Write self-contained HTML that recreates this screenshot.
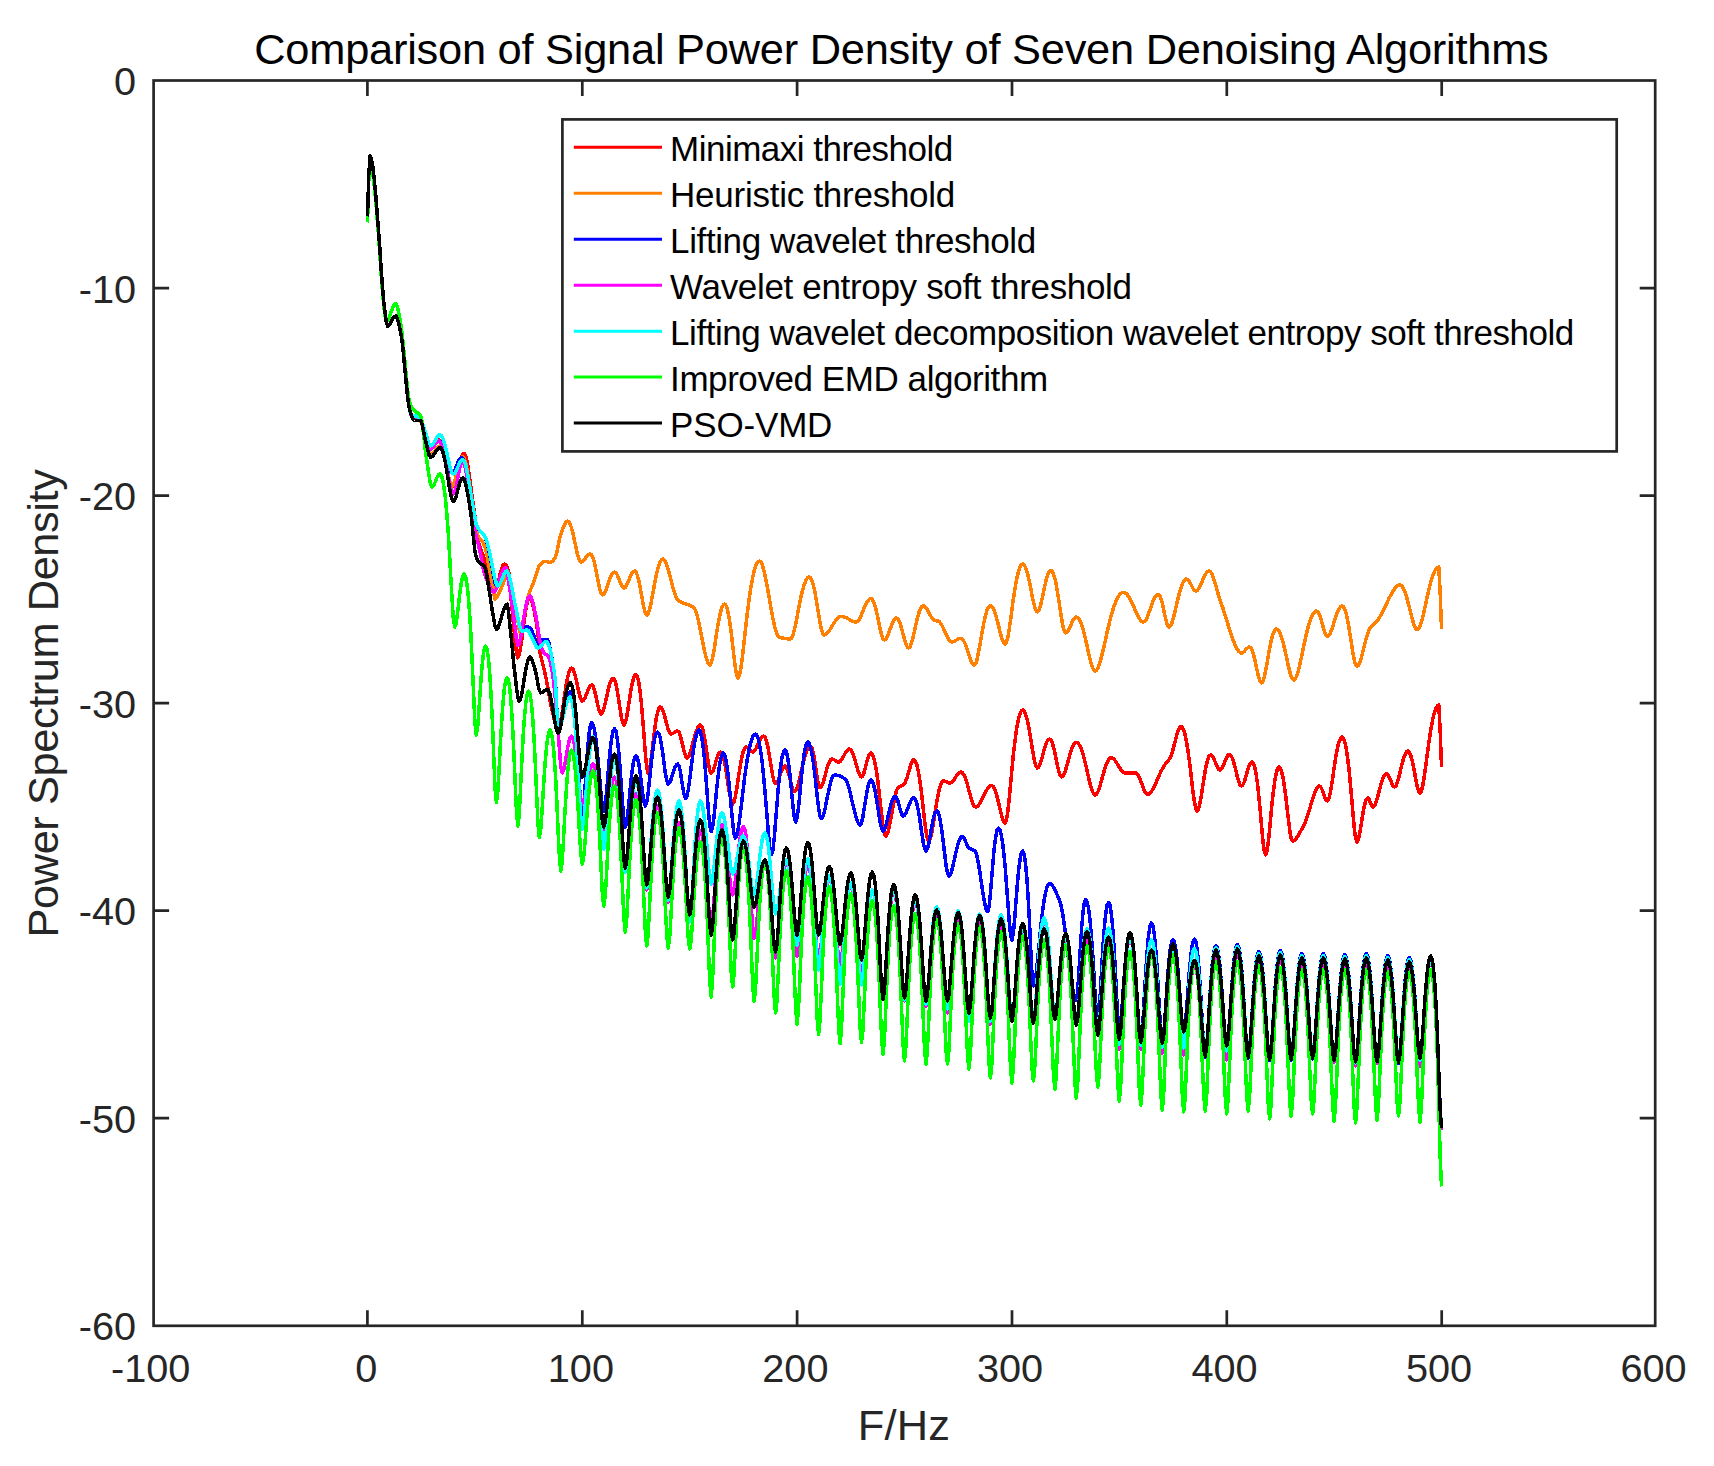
<!DOCTYPE html>
<html lang="en"><head><meta charset="utf-8"><title>Comparison of Signal Power Density of Seven Denoising Algorithms</title>
<style>html,body{margin:0;padding:0;background:#fff}body{width:1714px;height:1466px;overflow:hidden}</style></head>
<body>
<svg width="1714" height="1466" viewBox="0 0 1714 1466" style="display:block">
<rect x="0" y="0" width="1714" height="1466" fill="#fff"/>
<g fill="none" stroke-width="3.5" stroke-linejoin="round" stroke-linecap="butt" shape-rendering="crispEdges">
<path d="M367.5 216.5 L368.8 173.7 L370.2 155.7 L371.5 159.7 L372.9 167.3 L374.2 178.6 L375.6 193.4 L376.9 209.8 L378.2 226.2 L379.6 244.9 L380.9 265.4 L382.3 284.8 L383.6 300.5 L385.0 312.0 L386.3 321.9 L387.6 326.2 L389.0 325.5 L390.3 323.5 L391.7 321.0 L393.0 318.4 L394.4 316.6 L395.7 316.0 L397.0 317.6 L398.4 321.7 L399.7 327.7 L401.1 334.6 L402.4 343.5 L403.7 356.9 L405.1 371.2 L406.4 385.0 L407.8 398.8 L409.1 407.3 L410.5 413.5 L411.8 416.2 L413.1 416.1 L414.5 416.1 L415.8 416.0 L417.2 416.4 L418.5 417.4 L419.9 418.7 L421.2 420.7 L422.5 424.5 L423.9 429.3 L425.2 433.9 L426.6 438.0 L427.9 442.6 L429.3 446.4 L430.6 448.0 L431.9 447.4 L433.3 445.8 L434.6 443.6 L436.0 441.6 L437.3 440.0 L438.7 439.5 L440.0 440.4 L441.3 443.1 L442.7 447.4 L444.0 453.3 L445.4 460.2 L446.7 467.6 L448.1 475.0 L449.4 481.2 L450.7 485.5 L452.1 487.0 L453.4 485.8 L454.8 482.4 L456.1 477.4 L457.4 471.6 L458.8 465.8 L460.1 460.7 L461.5 456.7 L462.8 454.2 L464.2 453.4 L465.5 455.2 L466.8 460.2 L468.2 467.7 L469.5 476.9 L470.9 487.0 L472.2 497.5 L473.6 507.4 L474.9 516.2 L476.2 524.6 L477.6 535.1 L478.9 543.7 L480.3 548.0 L481.6 551.4 L483.0 555.3 L484.3 559.1 L485.6 563.1 L487.0 567.5 L488.3 572.0 L489.7 576.5 L491.0 580.5 L492.4 584.3 L493.7 587.6 L495.0 589.0 L496.4 587.6 L497.7 583.8 L499.1 578.5 L500.4 573.0 L501.8 568.3 L503.1 565.2 L504.4 564.1 L505.8 564.8 L507.1 567.0 L508.5 570.9 L509.8 578.1 L511.1 598.8 L512.5 612.9 L513.8 627.4 L515.2 642.0 L516.5 653.3 L517.9 657.8 L519.2 655.2 L520.5 648.3 L521.9 638.5 L523.2 627.8 L524.6 617.6 L525.9 609.1 L527.3 602.6 L528.6 598.6 L529.9 597.3 L531.3 599.1 L532.6 603.7 L534.0 609.9 L535.3 616.6 L536.7 624.4 L538.0 634.4 L539.3 648.8 L540.7 656.1 L542.0 660.8 L543.4 666.4 L544.7 672.2 L546.1 678.3 L547.4 685.2 L548.7 692.9 L550.1 700.6 L551.4 707.5 L552.8 713.2 L554.1 719.0 L555.5 724.2 L556.8 728.0 L558.1 729.5 L559.5 727.4 L560.8 721.4 L562.2 712.9 L563.5 703.3 L564.8 693.6 L566.2 684.9 L567.5 677.7 L568.9 672.4 L570.2 669.1 L571.6 668.0 L572.9 669.1 L574.2 672.1 L575.6 677.0 L576.9 683.0 L578.3 689.5 L579.6 695.3 L581.0 699.5 L582.3 701.0 L583.6 700.1 L585.0 697.8 L586.3 694.4 L587.7 690.9 L589.0 687.8 L590.4 685.7 L591.7 685.0 L593.0 686.2 L594.4 689.8 L595.7 695.2 L597.1 701.6 L598.4 707.8 L599.8 712.3 L601.1 714.0 L602.4 712.7 L603.8 709.1 L605.1 703.7 L606.5 697.6 L607.8 691.5 L609.1 686.2 L610.5 682.0 L611.8 679.4 L613.2 678.5 L614.5 679.9 L615.9 684.0 L617.2 690.5 L618.5 698.8 L619.9 707.9 L621.2 716.5 L622.6 722.7 L623.9 725.0 L625.3 723.0 L626.6 717.4 L627.9 709.5 L629.3 700.6 L630.6 692.1 L632.0 684.7 L633.3 679.1 L634.7 675.7 L636.0 674.5 L637.3 676.3 L638.7 681.8 L640.0 690.9 L641.4 703.4 L642.7 719.1 L644.1 736.7 L645.4 754.2 L646.7 767.8 L648.1 773.0 L649.4 770.1 L650.8 762.3 L652.1 751.5 L653.5 739.7 L654.8 728.8 L656.1 719.5 L657.5 712.6 L658.8 708.4 L660.2 707.0 L661.5 707.9 L662.9 710.5 L664.2 714.5 L665.5 719.5 L666.9 724.8 L668.2 729.5 L669.6 732.8 L670.9 734.0 L672.2 733.7 L673.6 732.9 L674.9 732.1 L676.3 731.3 L677.6 731.0 L679.0 732.2 L680.3 735.5 L681.6 740.6 L683.0 746.5 L684.3 752.3 L685.7 756.5 L687.0 758.0 L688.4 757.0 L689.7 754.3 L691.0 750.1 L692.4 745.2 L693.7 740.0 L695.1 735.1 L696.4 730.9 L697.8 727.7 L699.1 725.7 L700.4 725.0 L701.8 726.4 L703.1 730.6 L704.5 737.3 L705.8 745.8 L707.2 755.3 L708.5 764.2 L709.8 770.6 L711.2 773.0 L712.5 771.8 L713.9 768.7 L715.2 764.2 L716.5 759.6 L717.9 755.6 L719.2 752.9 L720.6 752.0 L721.9 753.2 L723.3 756.7 L724.6 762.5 L725.9 770.0 L727.3 778.8 L728.6 787.9 L730.0 796.1 L731.3 801.9 L732.7 804.0 L734.0 802.1 L735.3 796.7 L736.7 788.9 L738.0 780.0 L739.4 771.1 L740.7 762.9 L742.1 756.2 L743.4 751.1 L744.7 748.0 L746.1 747.0 L747.4 747.5 L748.8 748.8 L750.1 750.2 L751.5 751.5 L752.8 752.0 L754.1 751.3 L755.5 749.5 L756.8 746.8 L758.2 743.6 L759.5 740.6 L760.9 738.2 L762.2 736.6 L763.5 736.0 L764.9 737.1 L766.2 740.4 L767.6 745.8 L768.9 752.7 L770.2 760.8 L771.6 769.1 L772.9 776.6 L774.3 781.7 L775.6 783.6 L777.0 782.6 L778.3 780.0 L779.6 776.3 L781.0 772.4 L782.3 769.1 L783.7 766.8 L785.0 766.0 L786.4 767.1 L787.7 770.3 L789.0 775.1 L790.4 780.8 L791.7 786.2 L793.1 790.2 L794.4 791.6 L795.8 790.6 L797.1 787.7 L798.4 783.3 L799.8 777.9 L801.1 771.9 L802.5 765.9 L803.8 760.3 L805.2 755.4 L806.5 751.4 L807.8 748.4 L809.2 746.6 L810.5 746.0 L811.9 747.7 L813.2 752.5 L814.6 760.0 L815.9 769.1 L817.2 778.2 L818.6 785.0 L819.9 787.6 L821.3 786.6 L822.6 783.8 L824.0 779.6 L825.3 774.7 L826.6 769.7 L828.0 765.3 L829.3 761.9 L830.7 759.7 L832.0 759.0 L833.3 759.3 L834.7 760.1 L836.0 760.9 L837.4 761.7 L838.7 762.0 L840.1 761.5 L841.4 760.0 L842.7 757.8 L844.1 755.3 L845.4 752.8 L846.8 750.8 L848.1 749.5 L849.5 749.0 L850.8 749.7 L852.1 751.9 L853.5 755.2 L854.8 759.5 L856.2 764.4 L857.5 769.1 L858.9 773.2 L860.2 776.0 L861.5 777.0 L862.9 775.7 L864.2 772.0 L865.6 766.9 L866.9 761.6 L868.3 757.1 L869.6 754.0 L870.9 753.0 L872.3 754.1 L873.6 757.4 L875.0 762.9 L876.3 770.4 L877.7 779.9 L879.0 791.0 L880.3 803.0 L881.7 815.1 L883.0 825.8 L884.4 833.4 L885.7 836.0 L887.0 834.5 L888.4 830.5 L889.7 824.6 L891.1 817.5 L892.4 809.9 L893.8 802.5 L895.1 795.9 L896.4 790.8 L897.8 787.8 L899.1 786.8 L900.5 786.2 L901.8 785.7 L903.2 785.0 L904.5 783.8 L905.8 781.1 L907.2 777.1 L908.5 772.5 L909.9 767.8 L911.2 763.6 L912.6 760.7 L913.9 759.6 L915.2 760.7 L916.6 764.0 L917.9 769.4 L919.3 776.8 L920.6 786.1 L922.0 797.0 L923.3 808.8 L924.6 820.7 L926.0 831.1 L927.3 838.4 L928.7 841.0 L930.0 839.3 L931.4 834.5 L932.7 827.4 L934.0 819.0 L935.4 810.3 L936.7 802.1 L938.1 794.8 L939.4 788.9 L940.7 784.6 L942.1 781.9 L943.4 781.0 L944.8 781.2 L946.1 781.7 L947.5 782.3 L948.8 782.8 L950.1 783.0 L951.5 782.6 L952.8 781.3 L954.2 779.5 L955.5 777.3 L956.9 775.3 L958.2 773.5 L959.5 772.4 L960.9 772.0 L962.2 772.6 L963.6 774.3 L964.9 777.1 L966.3 780.9 L967.6 785.4 L968.9 790.3 L970.3 795.3 L971.6 799.9 L973.0 803.7 L974.3 806.2 L975.7 807.0 L977.0 806.6 L978.3 805.4 L979.7 803.5 L981.0 801.2 L982.4 798.5 L983.7 795.7 L985.1 792.9 L986.4 790.5 L987.7 788.4 L989.1 786.9 L990.4 785.9 L991.8 785.6 L993.1 786.3 L994.4 788.6 L995.8 792.1 L997.1 796.8 L998.5 802.4 L999.8 808.3 L1001.2 813.9 L1002.5 818.7 L1003.8 821.9 L1005.2 823.0 L1006.5 819.9 L1007.9 811.0 L1009.2 798.4 L1010.6 784.0 L1011.9 769.6 L1013.2 756.1 L1014.6 744.0 L1015.9 733.6 L1017.3 725.1 L1018.6 718.5 L1020.0 713.7 L1021.3 710.9 L1022.6 710.0 L1024.0 710.8 L1025.3 713.5 L1026.7 717.7 L1028.0 723.5 L1029.4 730.5 L1030.7 738.5 L1032.0 746.9 L1033.4 755.0 L1034.7 761.8 L1036.1 766.4 L1037.4 768.0 L1038.8 767.0 L1040.1 764.1 L1041.4 759.8 L1042.8 754.9 L1044.1 749.9 L1045.5 745.4 L1046.8 741.9 L1048.1 739.8 L1049.5 739.0 L1050.8 739.9 L1052.2 742.7 L1053.5 747.1 L1054.9 752.8 L1056.2 759.3 L1057.5 765.9 L1058.9 771.6 L1060.2 775.6 L1061.6 777.0 L1062.9 776.2 L1064.3 773.7 L1065.6 770.0 L1066.9 765.4 L1068.3 760.5 L1069.6 755.7 L1071.0 751.2 L1072.3 747.5 L1073.7 744.7 L1075.0 743.0 L1076.3 742.4 L1077.7 742.9 L1079.0 744.4 L1080.4 746.8 L1081.7 750.2 L1083.1 754.4 L1084.4 759.4 L1085.7 764.9 L1087.1 770.8 L1088.4 776.8 L1089.8 782.5 L1091.1 787.5 L1092.5 791.5 L1093.8 794.1 L1095.1 795.0 L1096.5 794.2 L1097.8 792.0 L1099.2 788.5 L1100.5 784.1 L1101.8 779.3 L1103.2 774.4 L1104.5 769.7 L1105.9 765.6 L1107.2 762.2 L1108.6 759.7 L1109.9 758.1 L1111.2 757.6 L1112.6 758.0 L1113.9 759.1 L1115.3 760.8 L1116.6 762.8 L1118.0 765.0 L1119.3 767.3 L1120.6 769.3 L1122.0 771.1 L1123.3 772.4 L1124.7 773.0 L1126.0 773.0 L1127.4 773.0 L1128.7 773.0 L1130.0 773.0 L1131.4 773.0 L1132.7 773.0 L1134.1 773.0 L1135.4 773.0 L1136.8 773.3 L1138.1 774.9 L1139.4 777.6 L1140.8 781.0 L1142.1 784.7 L1143.5 788.4 L1144.8 791.4 L1146.2 793.6 L1147.5 794.4 L1148.8 794.0 L1150.2 792.9 L1151.5 791.2 L1152.9 789.1 L1154.2 786.5 L1155.5 783.7 L1156.9 780.7 L1158.2 777.6 L1159.6 774.5 L1160.9 771.6 L1162.3 768.9 L1163.6 766.6 L1164.9 764.7 L1166.3 763.1 L1167.6 761.4 L1169.0 759.6 L1170.3 757.4 L1171.7 754.0 L1173.0 749.5 L1174.3 744.4 L1175.7 739.2 L1177.0 734.3 L1178.4 730.2 L1179.7 727.4 L1181.1 726.4 L1182.4 727.3 L1183.7 730.1 L1185.1 734.8 L1186.4 741.3 L1187.8 749.4 L1189.1 759.1 L1190.5 770.0 L1191.8 781.4 L1193.1 792.5 L1194.5 802.1 L1195.8 808.7 L1197.2 811.0 L1198.5 809.1 L1199.8 803.9 L1201.2 796.3 L1202.5 787.5 L1203.9 778.7 L1205.2 770.7 L1206.6 764.0 L1207.9 759.1 L1209.2 756.0 L1210.6 755.0 L1211.9 755.7 L1213.3 757.6 L1214.6 760.5 L1216.0 763.9 L1217.3 767.0 L1218.6 769.2 L1220.0 770.0 L1221.3 769.2 L1222.7 766.9 L1224.0 763.6 L1225.4 760.1 L1226.7 757.1 L1228.0 755.1 L1229.4 754.4 L1230.7 755.2 L1232.1 757.6 L1233.4 761.3 L1234.8 766.1 L1236.1 771.6 L1237.4 777.0 L1238.8 781.7 L1240.1 784.9 L1241.5 786.0 L1242.8 785.0 L1244.2 782.1 L1245.5 777.9 L1246.8 773.2 L1248.2 768.8 L1249.5 765.1 L1250.9 762.8 L1252.2 762.0 L1253.6 763.4 L1254.9 767.7 L1256.2 774.8 L1257.6 784.7 L1258.9 797.0 L1260.3 811.3 L1261.6 826.5 L1262.9 840.7 L1264.3 851.2 L1265.6 855.0 L1267.0 851.5 L1268.3 841.8 L1269.7 828.6 L1271.0 814.2 L1272.3 800.7 L1273.7 788.9 L1275.0 779.4 L1276.4 772.5 L1277.7 768.4 L1279.1 767.0 L1280.4 768.2 L1281.7 772.0 L1283.1 778.1 L1284.4 786.4 L1285.8 796.6 L1287.1 808.2 L1288.5 820.0 L1289.8 830.7 L1291.1 838.3 L1292.5 841.0 L1293.8 840.6 L1295.2 839.6 L1296.5 838.1 L1297.9 836.2 L1299.2 833.9 L1300.5 831.5 L1301.9 828.9 L1303.2 826.4 L1304.6 823.9 L1305.9 820.7 L1307.2 816.9 L1308.6 812.6 L1309.9 808.0 L1311.3 803.4 L1312.6 799.0 L1314.0 794.8 L1315.3 791.3 L1316.6 788.5 L1318.0 786.7 L1319.3 786.0 L1320.7 786.9 L1322.0 789.5 L1323.4 793.2 L1324.7 797.0 L1326.0 799.9 L1327.4 801.0 L1328.7 799.2 L1330.1 793.9 L1331.4 786.2 L1332.8 777.2 L1334.1 767.9 L1335.4 759.2 L1336.8 751.5 L1338.1 745.3 L1339.5 740.7 L1340.8 737.9 L1342.2 737.0 L1343.5 738.2 L1344.8 742.1 L1346.2 748.4 L1347.5 757.2 L1348.9 768.5 L1350.2 782.0 L1351.6 797.2 L1352.9 812.9 L1354.2 827.4 L1355.6 838.2 L1356.9 842.0 L1358.3 839.9 L1359.6 834.0 L1361.0 826.0 L1362.3 817.3 L1363.6 809.4 L1365.0 803.3 L1366.3 799.3 L1367.7 798.0 L1369.0 799.3 L1370.3 802.4 L1371.7 805.6 L1373.0 807.0 L1374.4 806.0 L1375.7 803.2 L1377.1 799.0 L1378.4 794.0 L1379.7 788.8 L1381.1 783.8 L1382.4 779.5 L1383.8 776.3 L1385.1 774.3 L1386.5 773.6 L1387.8 774.4 L1389.1 776.8 L1390.5 780.1 L1391.8 783.5 L1393.2 786.0 L1394.5 787.0 L1395.9 785.9 L1397.2 782.9 L1398.5 778.3 L1399.9 772.9 L1401.2 767.2 L1402.6 761.9 L1403.9 757.3 L1405.3 753.9 L1406.6 751.7 L1407.9 751.0 L1409.3 752.0 L1410.6 755.0 L1412.0 759.8 L1413.3 766.1 L1414.7 773.2 L1416.0 780.5 L1417.3 787.0 L1418.7 791.4 L1420.0 793.0 L1421.4 791.2 L1422.7 785.9 L1424.0 778.1 L1425.4 768.6 L1426.7 758.4 L1428.1 748.2 L1429.4 738.7 L1430.8 730.0 L1432.1 722.5 L1433.4 716.2 L1434.8 711.3 L1436.1 707.8 L1437.5 705.7 L1438.8 705.0 L1440.2 730.8 L1441.5 767.0" stroke="#ff0000"/>
<path d="M367.5 216.5 L368.8 173.7 L370.2 155.7 L371.5 159.7 L372.9 167.3 L374.2 178.6 L375.6 193.4 L376.9 209.8 L378.2 226.2 L379.6 244.9 L380.9 265.4 L382.3 284.8 L383.6 300.5 L385.0 312.0 L386.3 321.9 L387.6 326.2 L389.0 325.5 L390.3 323.5 L391.7 321.0 L393.0 318.4 L394.4 316.6 L395.7 316.0 L397.0 317.6 L398.4 321.7 L399.7 327.7 L401.1 334.6 L402.4 343.5 L403.7 356.9 L405.1 371.2 L406.4 385.0 L407.8 398.7 L409.1 407.4 L410.5 413.8 L411.8 416.3 L413.1 416.6 L414.5 416.7 L415.8 417.0 L417.2 417.6 L418.5 418.5 L419.9 419.8 L421.2 421.9 L422.5 426.6 L423.9 432.8 L425.2 438.7 L426.6 443.6 L427.9 448.9 L429.3 453.2 L430.6 455.0 L431.9 454.5 L433.3 453.2 L434.6 451.4 L436.0 449.4 L437.3 447.6 L438.7 446.4 L440.0 446.0 L441.3 447.0 L442.7 449.9 L444.0 454.5 L445.4 460.4 L446.7 467.3 L448.1 474.2 L449.4 480.3 L450.7 484.5 L452.1 486.0 L453.4 484.7 L454.8 481.0 L456.1 475.8 L457.4 470.0 L458.8 464.6 L460.1 460.3 L461.5 457.5 L462.8 456.5 L464.2 458.0 L465.5 462.1 L466.8 468.3 L468.2 476.0 L469.5 484.7 L470.9 493.7 L472.2 502.7 L473.6 510.9 L474.9 518.0 L476.2 525.1 L477.6 535.0 L478.9 538.2 L480.3 539.4 L481.6 540.5 L483.0 542.5 L484.3 545.3 L485.6 549.0 L487.0 554.6 L488.3 562.9 L489.7 570.1 L491.0 576.7 L492.4 583.5 L493.7 593.1 L495.0 598.9 L496.4 598.0 L497.7 595.9 L499.1 593.1 L500.4 590.2 L501.8 587.1 L503.1 583.4 L504.4 579.7 L505.8 576.6 L507.1 574.5 L508.5 576.8 L509.8 581.3 L511.1 586.7 L512.5 593.4 L513.8 600.1 L515.2 606.5 L516.5 613.1 L517.9 620.9 L519.2 629.7 L520.5 633.9 L521.9 628.5 L523.2 620.3 L524.6 613.5 L525.9 606.7 L527.3 600.4 L528.6 595.1 L529.9 591.1 L531.3 587.8 L532.6 584.6 L534.0 581.0 L535.3 576.9 L536.7 572.5 L538.0 568.7 L539.3 565.7 L540.7 564.1 L542.0 562.7 L543.4 561.8 L544.7 561.4 L546.1 561.6 L547.4 561.9 L548.7 562.2 L550.1 562.4 L551.4 562.0 L552.8 560.9 L554.1 559.2 L555.5 557.1 L556.8 552.3 L558.1 545.7 L559.5 539.2 L560.8 534.6 L562.2 530.8 L563.5 527.1 L564.8 524.0 L566.2 521.9 L567.5 521.1 L568.9 521.9 L570.2 524.3 L571.6 528.1 L572.9 533.2 L574.2 539.3 L575.6 545.7 L576.9 551.9 L578.3 557.2 L579.6 560.8 L581.0 562.0 L582.3 561.6 L583.6 560.4 L585.0 558.8 L586.3 557.0 L587.7 555.5 L589.0 554.4 L590.4 554.0 L591.7 555.0 L593.0 557.9 L594.4 562.6 L595.7 568.8 L597.1 575.8 L598.4 582.9 L599.8 589.1 L601.1 593.4 L602.4 595.0 L603.8 594.2 L605.1 592.0 L606.5 588.7 L607.8 584.8 L609.1 580.8 L610.5 577.2 L611.8 574.4 L613.2 572.6 L614.5 572.0 L615.9 572.7 L617.2 574.8 L618.5 577.9 L619.9 581.4 L621.2 584.8 L622.6 587.1 L623.9 588.0 L625.3 587.3 L626.6 585.3 L627.9 582.4 L629.3 579.1 L630.6 575.9 L632.0 573.3 L633.3 571.6 L634.7 571.0 L636.0 572.1 L637.3 575.2 L638.7 580.2 L640.0 586.7 L641.4 594.2 L642.7 601.8 L644.1 608.6 L645.4 613.3 L646.7 615.0 L648.1 613.7 L649.4 610.0 L650.8 604.3 L652.1 597.4 L653.5 590.0 L654.8 582.7 L656.1 576.0 L657.5 570.1 L658.8 565.3 L660.2 561.8 L661.5 559.7 L662.9 559.0 L664.2 559.8 L665.5 562.1 L666.9 565.5 L668.2 569.8 L669.6 574.6 L670.9 579.7 L672.2 584.9 L673.6 589.7 L674.9 594.0 L676.3 597.4 L677.6 599.6 L679.0 600.8 L680.3 601.6 L681.6 602.3 L683.0 602.9 L684.3 603.4 L685.7 603.8 L687.0 604.3 L688.4 604.7 L689.7 605.3 L691.0 605.9 L692.4 606.7 L693.7 607.8 L695.1 609.6 L696.4 613.1 L697.8 618.0 L699.1 624.0 L700.4 630.6 L701.8 637.5 L703.1 644.4 L704.5 650.8 L705.8 656.5 L707.2 661.0 L708.5 663.9 L709.8 665.0 L711.2 663.3 L712.5 658.3 L713.9 651.1 L715.2 642.6 L716.5 633.7 L717.9 625.4 L719.2 618.0 L720.6 612.0 L721.9 607.6 L723.3 604.9 L724.6 604.0 L725.9 605.2 L727.3 609.0 L728.6 615.1 L730.0 623.4 L731.3 633.6 L732.7 645.2 L734.0 657.0 L735.3 667.7 L736.7 675.3 L738.0 678.0 L739.4 675.7 L740.7 669.3 L742.1 659.7 L743.4 648.3 L744.7 636.1 L746.1 623.9 L747.4 612.4 L748.8 601.7 L750.1 592.2 L751.5 583.9 L752.8 576.9 L754.1 571.2 L755.5 566.7 L756.8 563.5 L758.2 561.7 L759.5 561.0 L760.9 562.0 L762.2 564.8 L763.5 569.2 L764.9 574.8 L766.2 581.4 L767.6 588.6 L768.9 596.2 L770.2 604.0 L771.6 611.5 L772.9 618.6 L774.3 624.9 L775.6 630.2 L777.0 634.2 L778.3 636.5 L779.6 637.2 L781.0 637.6 L782.3 637.9 L783.7 638.2 L785.0 638.5 L786.4 638.7 L787.7 638.9 L789.0 639.0 L790.4 639.0 L791.7 637.9 L793.1 634.7 L794.4 629.8 L795.8 623.6 L797.1 616.8 L798.4 609.7 L799.8 602.8 L801.1 596.4 L802.5 590.7 L803.8 585.9 L805.2 582.0 L806.5 579.2 L807.8 577.5 L809.2 577.0 L810.5 577.8 L811.9 580.5 L813.2 584.7 L814.6 590.5 L815.9 597.5 L817.2 605.5 L818.6 613.9 L819.9 622.0 L821.3 628.8 L822.6 633.4 L824.0 635.0 L825.3 634.7 L826.6 633.8 L828.0 632.4 L829.3 630.6 L830.7 628.6 L832.0 626.3 L833.3 624.1 L834.7 622.0 L836.0 620.1 L837.4 618.5 L838.7 617.4 L840.1 616.6 L841.4 616.4 L842.7 616.5 L844.1 616.9 L845.4 617.4 L846.8 618.1 L848.1 618.8 L849.5 619.6 L850.8 620.3 L852.1 621.0 L853.5 621.5 L854.8 621.9 L856.2 622.0 L857.5 621.5 L858.9 619.9 L860.2 617.5 L861.5 614.5 L862.9 611.2 L864.2 607.8 L865.6 604.8 L866.9 602.1 L868.3 600.2 L869.6 598.9 L870.9 598.5 L872.3 599.3 L873.6 601.7 L875.0 605.6 L876.3 610.8 L877.7 616.9 L879.0 623.4 L880.3 629.7 L881.7 635.1 L883.0 638.7 L884.4 640.0 L885.7 639.3 L887.0 637.1 L888.4 634.0 L889.7 630.3 L891.1 626.5 L892.4 623.0 L893.8 620.3 L895.1 618.6 L896.4 618.0 L897.8 618.8 L899.1 621.0 L900.5 624.6 L901.8 629.2 L903.2 634.4 L904.5 639.5 L905.8 643.9 L907.2 646.9 L908.5 648.0 L909.9 646.9 L911.2 643.8 L912.6 639.1 L913.9 633.4 L915.2 627.3 L916.6 621.4 L917.9 616.1 L919.3 611.6 L920.6 608.3 L922.0 606.3 L923.3 605.6 L924.6 606.2 L926.0 607.6 L927.3 609.7 L928.7 612.2 L930.0 614.7 L931.4 617.1 L932.7 618.9 L934.0 620.0 L935.4 620.5 L936.7 620.8 L938.1 621.2 L939.4 621.8 L940.7 623.3 L942.1 625.6 L943.4 628.4 L944.8 631.5 L946.1 634.6 L947.5 637.4 L948.8 639.8 L950.1 641.4 L951.5 642.0 L952.8 641.8 L954.2 641.3 L955.5 640.6 L956.9 639.8 L958.2 639.1 L959.5 638.6 L960.9 638.4 L962.2 639.0 L963.6 640.6 L964.9 643.3 L966.3 646.7 L967.6 650.7 L968.9 654.9 L970.3 658.8 L971.6 662.1 L973.0 664.3 L974.3 665.0 L975.7 663.6 L977.0 659.5 L978.3 653.5 L979.7 646.1 L981.0 638.2 L982.4 630.5 L983.7 623.4 L985.1 617.2 L986.4 612.2 L987.7 608.6 L989.1 606.3 L990.4 605.6 L991.8 606.2 L993.1 608.1 L994.4 611.2 L995.8 615.2 L997.1 620.1 L998.5 625.5 L999.8 631.0 L1001.2 636.1 L1002.5 640.3 L1003.8 643.1 L1005.2 644.0 L1006.5 642.2 L1007.9 636.9 L1009.2 629.1 L1010.6 619.8 L1011.9 609.8 L1013.2 600.0 L1014.6 591.0 L1015.9 583.0 L1017.3 576.3 L1018.6 570.9 L1020.0 567.1 L1021.3 564.7 L1022.6 564.0 L1024.0 564.7 L1025.3 567.0 L1026.7 570.7 L1028.0 575.6 L1029.4 581.6 L1030.7 588.2 L1032.0 595.2 L1033.4 601.7 L1034.7 607.1 L1036.1 610.8 L1037.4 612.0 L1038.8 610.7 L1040.1 607.1 L1041.4 601.7 L1042.8 595.4 L1044.1 588.8 L1045.5 582.7 L1046.8 577.5 L1048.1 573.6 L1049.5 571.2 L1050.8 570.4 L1052.2 571.3 L1053.5 574.1 L1054.9 578.5 L1056.2 584.7 L1057.5 592.2 L1058.9 600.8 L1060.2 609.8 L1061.6 618.6 L1062.9 626.1 L1064.3 631.2 L1065.6 633.0 L1066.9 632.3 L1068.3 630.5 L1069.6 627.8 L1071.0 624.6 L1072.3 621.6 L1073.7 619.2 L1075.0 617.6 L1076.3 617.0 L1077.7 617.5 L1079.0 619.0 L1080.4 621.5 L1081.7 625.0 L1083.1 629.3 L1084.4 634.4 L1085.7 640.0 L1087.1 646.0 L1088.4 652.2 L1089.8 658.1 L1091.1 663.3 L1092.5 667.4 L1093.8 670.1 L1095.1 671.0 L1096.5 670.2 L1097.8 668.3 L1099.2 665.0 L1100.5 660.7 L1101.8 655.6 L1103.2 650.0 L1104.5 644.1 L1105.9 638.0 L1107.2 632.0 L1108.6 626.2 L1109.9 620.7 L1111.2 615.5 L1112.6 610.8 L1113.9 606.6 L1115.3 602.9 L1116.6 599.7 L1118.0 597.1 L1119.3 595.0 L1120.6 593.5 L1122.0 592.7 L1123.3 592.4 L1124.7 592.7 L1126.0 593.5 L1127.4 594.8 L1128.7 596.7 L1130.0 598.9 L1131.4 601.6 L1132.7 604.5 L1134.1 607.5 L1135.4 610.6 L1136.8 613.6 L1138.1 616.4 L1139.4 618.7 L1140.8 620.5 L1142.1 621.6 L1143.5 622.0 L1144.8 621.4 L1146.2 619.5 L1147.5 616.6 L1148.8 613.0 L1150.2 609.1 L1151.5 605.2 L1152.9 601.6 L1154.2 598.6 L1155.5 596.3 L1156.9 594.9 L1158.2 594.4 L1159.6 595.5 L1160.9 598.5 L1162.3 603.3 L1163.6 609.2 L1164.9 615.6 L1166.3 621.4 L1167.6 625.5 L1169.0 627.0 L1170.3 626.1 L1171.7 623.5 L1173.0 619.4 L1174.3 614.3 L1175.7 608.6 L1177.0 602.7 L1178.4 597.1 L1179.7 591.9 L1181.1 587.4 L1182.4 583.8 L1183.7 581.1 L1185.1 579.5 L1186.4 579.0 L1187.8 579.6 L1189.1 581.1 L1190.5 583.5 L1191.8 586.1 L1193.1 588.6 L1194.5 590.4 L1195.8 591.0 L1197.2 590.5 L1198.5 588.9 L1199.8 586.5 L1201.2 583.6 L1202.5 580.4 L1203.9 577.4 L1205.2 574.8 L1206.6 572.7 L1207.9 571.4 L1209.2 571.0 L1210.6 571.8 L1211.9 574.0 L1213.3 577.4 L1214.6 581.5 L1216.0 586.1 L1217.3 591.0 L1218.6 595.8 L1220.0 600.1 L1221.3 603.9 L1222.7 607.6 L1224.0 611.6 L1225.4 615.8 L1226.7 620.2 L1228.0 624.5 L1229.4 628.9 L1230.7 633.1 L1232.1 637.1 L1233.4 640.8 L1234.8 644.2 L1236.1 647.2 L1237.4 649.6 L1238.8 651.4 L1240.1 652.6 L1241.5 653.0 L1242.8 652.6 L1244.2 651.4 L1245.5 650.0 L1246.8 648.6 L1248.2 647.4 L1249.5 647.0 L1250.9 647.9 L1252.2 650.5 L1253.6 654.7 L1254.9 660.2 L1256.2 666.4 L1257.6 672.6 L1258.9 678.0 L1260.3 681.7 L1261.6 683.0 L1262.9 681.6 L1264.3 677.3 L1265.6 671.1 L1267.0 663.6 L1268.3 655.8 L1269.7 648.4 L1271.0 641.7 L1272.3 636.3 L1273.7 632.3 L1275.0 629.8 L1276.4 629.0 L1277.7 629.5 L1279.1 631.2 L1280.4 634.0 L1281.7 637.8 L1283.1 642.5 L1284.4 648.0 L1285.8 654.0 L1287.1 660.2 L1288.5 666.3 L1289.8 671.8 L1291.1 676.2 L1292.5 679.0 L1293.8 680.0 L1295.2 679.1 L1296.5 676.6 L1297.9 672.6 L1299.2 667.4 L1300.5 661.5 L1301.9 655.1 L1303.2 648.5 L1304.6 642.1 L1305.9 636.1 L1307.2 630.5 L1308.6 625.5 L1309.9 621.1 L1311.3 617.5 L1312.6 614.7 L1314.0 612.6 L1315.3 611.4 L1316.6 611.0 L1318.0 611.9 L1319.3 614.3 L1320.7 618.1 L1322.0 622.8 L1323.4 627.8 L1324.7 632.2 L1326.0 635.3 L1327.4 636.4 L1328.7 635.7 L1330.1 633.6 L1331.4 630.4 L1332.8 626.4 L1334.1 622.1 L1335.4 617.8 L1336.8 613.9 L1338.1 610.6 L1339.5 608.1 L1340.8 606.5 L1342.2 606.0 L1343.5 606.9 L1344.8 609.6 L1346.2 613.9 L1347.5 619.9 L1348.9 627.2 L1350.2 635.5 L1351.6 644.2 L1352.9 652.7 L1354.2 659.8 L1355.6 664.7 L1356.9 666.4 L1358.3 665.4 L1359.6 662.8 L1361.0 658.9 L1362.3 654.1 L1363.6 648.8 L1365.0 643.3 L1366.3 638.1 L1367.7 633.5 L1369.0 629.8 L1370.3 627.5 L1371.7 626.0 L1373.0 624.7 L1374.4 623.5 L1375.7 622.4 L1377.1 620.9 L1378.4 619.2 L1379.7 617.1 L1381.1 614.7 L1382.4 612.2 L1383.8 609.5 L1385.1 606.7 L1386.5 603.8 L1387.8 601.0 L1389.1 598.2 L1390.5 595.6 L1391.8 593.1 L1393.2 590.8 L1394.5 588.9 L1395.9 587.3 L1397.2 586.0 L1398.5 585.3 L1399.9 585.0 L1401.2 585.5 L1402.6 587.0 L1403.9 589.5 L1405.3 592.9 L1406.6 597.1 L1407.9 602.0 L1409.3 607.2 L1410.6 612.7 L1412.0 617.9 L1413.3 622.6 L1414.7 626.4 L1416.0 628.8 L1417.3 629.6 L1418.7 628.7 L1420.0 626.2 L1421.4 622.3 L1422.7 617.2 L1424.0 611.5 L1425.4 605.3 L1426.7 599.0 L1428.1 593.0 L1429.4 587.3 L1430.8 582.1 L1432.1 577.6 L1433.4 573.9 L1434.8 570.9 L1436.1 568.7 L1437.5 567.4 L1438.8 567.0 L1440.2 592.8 L1441.5 629.0" stroke="#ff8000"/>
<path d="M367.5 216.5 L368.8 173.7 L370.2 155.7 L371.5 159.7 L372.9 167.3 L374.2 178.6 L375.6 193.4 L376.9 209.8 L378.2 226.2 L379.6 244.9 L380.9 265.4 L382.3 284.8 L383.6 300.5 L385.0 312.0 L386.3 321.9 L387.6 326.2 L389.0 325.5 L390.3 323.5 L391.7 321.0 L393.0 318.4 L394.4 316.6 L395.7 316.0 L397.0 317.6 L398.4 321.7 L399.7 327.7 L401.1 334.6 L402.4 343.5 L403.7 356.9 L405.1 371.2 L406.4 385.0 L407.8 398.8 L409.1 407.3 L410.5 413.5 L411.8 416.2 L413.1 416.1 L414.5 416.1 L415.8 416.0 L417.2 416.3 L418.5 417.2 L419.9 418.4 L421.2 420.0 L422.5 423.4 L423.9 427.7 L425.2 432.0 L426.6 436.0 L427.9 440.6 L429.3 444.4 L430.6 446.0 L431.9 445.4 L433.3 443.8 L434.6 441.6 L436.0 439.1 L437.3 437.0 L438.7 435.5 L440.0 435.0 L441.3 435.9 L442.7 438.7 L444.0 443.2 L445.4 449.0 L446.7 455.6 L448.1 462.2 L449.4 468.1 L450.7 472.1 L452.1 473.5 L453.4 472.6 L454.8 470.3 L456.1 467.0 L457.4 463.5 L458.8 460.4 L460.1 458.3 L461.5 457.6 L462.8 458.8 L464.2 462.0 L465.5 466.9 L466.8 473.2 L468.2 480.4 L469.5 488.2 L470.9 496.2 L472.2 504.1 L473.6 511.3 L474.9 518.2 L476.2 524.8 L477.6 527.7 L478.9 529.7 L480.3 531.2 L481.6 532.6 L483.0 534.0 L484.3 536.0 L485.6 538.8 L487.0 543.1 L488.3 548.4 L489.7 554.6 L491.0 561.7 L492.4 568.5 L493.7 576.0 L495.0 582.7 L496.4 585.5 L497.7 584.9 L499.1 583.2 L500.4 580.8 L501.8 578.0 L503.1 575.2 L504.4 573.0 L505.8 571.5 L507.1 571.0 L508.5 573.4 L509.8 578.5 L511.1 584.1 L512.5 591.2 L513.8 598.2 L515.2 604.9 L516.5 611.4 L517.9 617.8 L519.2 623.8 L520.5 627.0 L521.9 628.5 L523.2 628.1 L524.6 627.5 L525.9 627.1 L527.3 627.1 L528.6 627.1 L529.9 627.4 L531.3 629.6 L532.6 632.9 L534.0 636.3 L535.3 640.2 L536.7 644.5 L538.0 646.5 L539.3 644.9 L540.7 641.8 L542.0 639.7 L543.4 639.6 L544.7 639.6 L546.1 639.6 L547.4 639.6 L548.7 642.1 L550.1 648.4 L551.4 655.5 L552.8 663.4 L554.1 671.0 L555.5 681.6 L556.8 709.0 L558.1 728.0 L559.5 726.7 L560.8 723.0 L562.2 717.6 L563.5 711.4 L564.8 705.2 L566.2 699.7 L567.5 695.5 L568.9 692.9 L570.2 692.0 L571.6 694.0 L572.9 700.2 L574.2 710.5 L575.6 725.0 L576.9 743.5 L578.3 765.2 L579.6 787.9 L581.0 806.5 L582.3 814.0 L583.6 806.5 L585.0 788.3 L586.3 767.2 L587.7 748.3 L589.0 734.2 L590.4 725.6 L591.7 722.7 L593.0 724.4 L594.4 729.5 L595.7 738.0 L597.1 749.6 L598.4 763.8 L599.8 779.7 L601.1 795.0 L602.4 806.6 L603.8 811.0 L605.1 806.0 L606.5 793.2 L607.8 776.9 L609.1 760.8 L610.5 747.2 L611.8 737.1 L613.2 730.9 L614.5 728.8 L615.9 731.1 L617.2 738.0 L618.5 749.5 L619.9 765.1 L621.2 784.1 L622.6 804.1 L623.9 820.4 L625.3 827.0 L626.6 822.9 L627.9 812.3 L629.3 798.4 L630.6 784.3 L632.0 772.2 L633.3 763.0 L634.7 757.4 L636.0 755.5 L637.3 757.4 L638.7 763.1 L640.0 771.9 L641.4 782.9 L642.7 794.1 L644.1 802.7 L645.4 806.0 L646.7 802.6 L648.1 793.5 L649.4 781.1 L650.8 767.9 L652.1 755.7 L653.5 745.6 L654.8 738.1 L656.1 733.5 L657.5 732.0 L658.8 733.5 L660.2 738.0 L661.5 745.1 L662.9 754.3 L664.2 764.5 L665.5 774.2 L666.9 781.3 L668.2 784.0 L669.6 782.9 L670.9 779.9 L672.2 775.7 L673.6 771.3 L674.9 767.4 L676.3 764.9 L677.6 764.0 L679.0 765.9 L680.3 771.4 L681.6 779.6 L683.0 788.5 L684.3 795.6 L685.7 798.4 L687.0 796.0 L688.4 789.1 L689.7 779.4 L691.0 768.6 L692.4 757.9 L693.7 748.3 L695.1 740.5 L696.4 734.7 L697.8 731.2 L699.1 730.0 L700.4 731.9 L701.8 737.4 L703.1 746.7 L704.5 759.5 L705.8 775.6 L707.2 793.8 L708.5 811.9 L709.8 826.1 L711.2 831.6 L712.5 827.9 L713.9 818.0 L715.2 804.7 L716.5 790.7 L717.9 777.8 L719.2 767.2 L720.6 759.3 L721.9 754.6 L723.3 753.0 L724.6 754.7 L725.9 759.7 L727.3 767.9 L728.6 779.2 L730.0 793.0 L731.3 808.2 L732.7 822.8 L734.0 833.8 L735.3 838.0 L736.7 835.9 L738.0 829.9 L739.4 821.0 L740.7 810.3 L742.1 798.9 L743.4 787.6 L744.7 776.8 L746.1 767.0 L747.4 758.3 L748.8 750.9 L750.1 744.8 L751.5 740.1 L752.8 736.7 L754.1 734.7 L755.5 734.0 L756.8 735.1 L758.2 738.6 L759.5 744.3 L760.9 752.4 L762.2 762.8 L763.5 775.5 L764.9 790.3 L766.2 806.6 L767.6 823.5 L768.9 839.1 L770.2 850.5 L771.6 854.6 L772.9 850.0 L774.3 837.5 L775.6 821.0 L777.0 803.8 L778.3 787.9 L779.6 774.4 L781.0 763.8 L782.3 756.1 L783.7 751.5 L785.0 750.0 L786.4 751.9 L787.7 757.6 L789.0 766.8 L790.4 779.0 L791.7 793.1 L793.1 807.1 L794.4 817.9 L795.8 822.0 L797.1 818.2 L798.4 808.1 L799.8 794.5 L801.1 780.2 L802.5 767.1 L803.8 756.3 L805.2 748.4 L806.5 743.6 L807.8 742.0 L809.2 743.3 L810.5 747.1 L811.9 753.3 L813.2 761.8 L814.6 772.3 L815.9 784.2 L817.2 796.5 L818.6 807.6 L819.9 815.5 L821.3 818.4 L822.6 817.1 L824.0 813.2 L825.3 807.6 L826.6 800.9 L828.0 794.1 L829.3 787.8 L830.7 782.4 L832.0 778.4 L833.3 775.8 L834.7 775.0 L836.0 775.1 L837.4 775.3 L838.7 775.7 L840.1 776.2 L841.4 776.9 L842.7 777.6 L844.1 778.4 L845.4 779.4 L846.8 781.6 L848.1 785.3 L849.5 790.0 L850.8 795.4 L852.1 801.2 L853.5 807.1 L854.8 812.6 L856.2 817.5 L857.5 821.5 L858.9 824.1 L860.2 825.0 L861.5 822.8 L862.9 816.8 L864.2 808.6 L865.6 799.7 L866.9 791.7 L868.3 785.3 L869.6 781.4 L870.9 780.0 L872.3 781.2 L873.6 784.7 L875.0 790.3 L876.3 797.7 L877.7 806.4 L879.0 815.3 L880.3 823.3 L881.7 829.0 L883.0 831.0 L884.4 829.7 L885.7 826.2 L887.0 821.0 L888.4 815.1 L889.7 809.1 L891.1 803.9 L892.4 799.8 L893.8 797.3 L895.1 796.4 L896.4 797.6 L897.8 800.9 L899.1 805.7 L900.5 810.7 L901.8 814.5 L903.2 816.0 L904.5 815.2 L905.8 813.1 L907.2 809.9 L908.5 806.3 L909.9 802.9 L911.2 800.1 L912.6 798.2 L913.9 797.6 L915.2 798.8 L916.6 802.4 L917.9 808.3 L919.3 816.0 L920.6 825.0 L922.0 834.4 L923.3 842.9 L924.6 848.8 L926.0 851.0 L927.3 849.1 L928.7 843.9 L930.0 836.7 L931.4 828.8 L932.7 821.6 L934.0 815.9 L935.4 812.2 L936.7 811.0 L938.1 812.4 L939.4 816.6 L940.7 823.4 L942.1 832.5 L943.4 843.3 L944.8 854.9 L946.1 865.5 L947.5 873.2 L948.8 876.0 L950.1 874.8 L951.5 871.4 L952.8 866.3 L954.2 860.3 L955.5 854.0 L956.9 848.2 L958.2 843.3 L959.5 839.5 L960.9 837.2 L962.2 836.4 L963.6 837.4 L964.9 839.9 L966.3 843.1 L967.6 846.0 L968.9 848.0 L970.3 848.8 L971.6 849.3 L973.0 849.8 L974.3 850.5 L975.7 851.9 L977.0 856.2 L978.3 862.8 L979.7 871.1 L981.0 880.2 L982.4 889.4 L983.7 898.0 L985.1 905.0 L986.4 909.8 L987.7 911.6 L989.1 906.5 L990.4 893.4 L991.8 876.8 L993.1 860.4 L994.4 846.6 L995.8 836.4 L997.1 830.1 L998.5 828.0 L999.8 829.6 L1001.2 834.3 L1002.5 842.3 L1003.8 853.4 L1005.2 867.6 L1006.5 884.5 L1007.9 903.0 L1009.2 921.0 L1010.6 934.8 L1011.9 940.0 L1013.2 934.4 L1014.6 920.1 L1015.9 902.3 L1017.3 884.9 L1018.6 870.4 L1020.0 859.7 L1021.3 853.2 L1022.6 851.0 L1024.0 853.7 L1025.3 861.9 L1026.7 875.7 L1028.0 895.3 L1029.4 920.4 L1030.7 948.9 L1032.0 974.8 L1033.4 986.0 L1034.7 982.9 L1036.1 974.1 L1037.4 961.7 L1038.8 947.7 L1040.1 933.9 L1041.4 921.0 L1042.8 909.7 L1044.1 900.4 L1045.5 893.0 L1046.8 887.8 L1048.1 884.6 L1049.5 883.6 L1050.8 884.0 L1052.2 885.3 L1053.5 887.2 L1054.9 889.6 L1056.2 892.5 L1057.5 895.7 L1058.9 899.1 L1060.2 902.6 L1061.6 907.9 L1062.9 915.4 L1064.3 924.6 L1065.6 934.9 L1066.9 946.0 L1068.3 957.3 L1069.6 968.2 L1071.0 978.3 L1072.3 987.0 L1073.7 993.9 L1075.0 998.4 L1076.3 1000.0 L1077.7 991.3 L1079.0 970.6 L1080.4 947.3 L1081.7 926.9 L1083.1 911.8 L1084.4 902.6 L1085.7 899.6 L1087.1 901.6 L1088.4 907.7 L1089.8 918.0 L1091.1 932.3 L1092.5 950.7 L1093.8 972.1 L1095.1 994.5 L1096.5 1012.7 L1097.8 1020.0 L1099.2 1011.2 L1100.5 990.1 L1101.8 965.6 L1103.2 943.2 L1104.5 925.4 L1105.9 912.6 L1107.2 904.9 L1108.6 902.4 L1109.9 905.0 L1111.2 913.0 L1112.6 926.4 L1113.9 945.3 L1115.3 969.2 L1116.6 996.1 L1118.0 1019.8 L1119.3 1030.0 L1120.6 1023.7 L1122.0 1008.0 L1123.3 988.7 L1124.7 970.2 L1126.0 954.8 L1127.4 943.6 L1128.7 936.8 L1130.0 934.5 L1131.4 936.9 L1132.7 944.3 L1134.1 956.4 L1135.4 973.3 L1136.8 994.1 L1138.1 1016.5 L1139.4 1035.3 L1140.8 1043.0 L1142.1 1033.9 L1143.5 1012.1 L1144.8 987.1 L1146.2 964.4 L1147.5 946.2 L1148.8 933.3 L1150.2 925.6 L1151.5 923.0 L1152.9 925.6 L1154.2 933.3 L1155.5 946.3 L1156.9 964.6 L1158.2 987.4 L1159.6 1012.8 L1160.9 1034.7 L1162.3 1044.0 L1163.6 1036.7 L1164.9 1018.9 L1166.3 997.4 L1167.6 977.3 L1169.0 960.9 L1170.3 949.0 L1171.7 941.8 L1173.0 939.4 L1174.3 941.7 L1175.7 948.4 L1177.0 959.4 L1178.4 974.6 L1179.7 992.7 L1181.1 1011.6 L1182.4 1026.9 L1183.7 1033.0 L1185.1 1026.9 L1186.4 1011.5 L1187.8 992.5 L1189.1 974.3 L1190.5 959.1 L1191.8 948.0 L1193.1 941.3 L1194.5 939.0 L1195.8 941.6 L1197.2 949.2 L1198.5 962.0 L1199.8 979.9 L1201.2 1002.3 L1202.5 1026.9 L1203.9 1048.1 L1205.2 1057.0 L1206.6 1048.9 L1207.9 1029.4 L1209.2 1006.3 L1210.6 985.0 L1211.9 967.8 L1213.3 955.4 L1214.6 948.0 L1216.0 945.5 L1217.3 947.9 L1218.6 954.9 L1220.0 966.6 L1221.3 982.7 L1222.7 1002.2 L1224.0 1023.0 L1225.4 1040.1 L1226.7 1047.0 L1228.0 1040.0 L1229.4 1022.6 L1230.7 1001.7 L1232.1 981.9 L1233.4 965.7 L1234.8 954.0 L1236.1 946.9 L1237.4 944.5 L1238.8 947.0 L1240.1 954.5 L1241.5 967.0 L1242.8 984.5 L1244.2 1006.1 L1245.5 1029.7 L1246.8 1049.7 L1248.2 1058.0 L1249.5 1050.5 L1250.9 1032.2 L1252.2 1010.3 L1253.6 989.9 L1254.9 973.2 L1256.2 961.2 L1257.6 953.9 L1258.9 951.5 L1260.3 954.0 L1261.6 961.3 L1262.9 973.5 L1264.3 990.5 L1265.6 1011.4 L1267.0 1033.9 L1268.3 1052.8 L1269.7 1060.6 L1271.0 1052.7 L1272.3 1033.5 L1273.7 1010.8 L1275.0 989.7 L1276.4 972.6 L1277.7 960.3 L1279.1 953.0 L1280.4 950.5 L1281.7 953.0 L1283.1 960.3 L1284.4 972.6 L1285.8 989.6 L1287.1 1010.5 L1288.5 1033.1 L1289.8 1052.2 L1291.1 1060.0 L1292.5 1052.5 L1293.8 1034.2 L1295.2 1012.3 L1296.5 991.9 L1297.9 975.2 L1299.2 963.2 L1300.5 955.9 L1301.9 953.5 L1303.2 955.9 L1304.6 963.1 L1305.9 975.1 L1307.2 991.6 L1308.6 1011.9 L1309.9 1033.6 L1311.3 1051.6 L1312.6 1059.0 L1314.0 1051.6 L1315.3 1033.6 L1316.6 1011.9 L1318.0 991.6 L1319.3 975.1 L1320.7 963.1 L1322.0 955.9 L1323.4 953.5 L1324.7 955.9 L1326.0 963.2 L1327.4 975.3 L1328.7 992.1 L1330.1 1012.7 L1331.4 1034.9 L1332.8 1053.4 L1334.1 1061.0 L1335.4 1053.5 L1336.8 1035.2 L1338.1 1013.3 L1339.5 992.9 L1340.8 976.2 L1342.2 964.2 L1343.5 956.9 L1344.8 954.5 L1346.2 956.9 L1347.5 964.3 L1348.9 976.4 L1350.2 993.3 L1351.6 1014.1 L1352.9 1036.5 L1354.2 1055.3 L1355.6 1063.0 L1356.9 1055.2 L1358.3 1036.1 L1359.6 1013.5 L1361.0 992.6 L1362.3 975.6 L1363.6 963.3 L1365.0 956.0 L1366.3 953.5 L1367.7 956.0 L1369.0 963.3 L1370.3 975.5 L1371.7 992.5 L1373.0 1013.4 L1374.4 1035.9 L1375.7 1054.8 L1377.1 1062.6 L1378.4 1055.1 L1379.7 1036.6 L1381.1 1014.6 L1382.4 994.0 L1383.8 977.3 L1385.1 965.2 L1386.5 957.9 L1387.8 955.5 L1389.1 957.9 L1390.5 965.2 L1391.8 977.4 L1393.2 994.2 L1394.5 1014.9 L1395.9 1037.1 L1397.2 1055.8 L1398.5 1063.4 L1399.9 1056.0 L1401.2 1037.8 L1402.6 1016.1 L1403.9 995.7 L1405.3 979.1 L1406.6 967.1 L1407.9 959.9 L1409.3 957.5 L1410.6 959.9 L1412.0 966.9 L1413.3 978.6 L1414.7 994.7 L1416.0 1014.2 L1417.3 1035.0 L1418.7 1052.1 L1420.0 1059.0 L1421.4 1052.1 L1422.7 1035.2 L1424.0 1014.5 L1425.4 995.0 L1426.7 979.0 L1428.1 967.4 L1429.4 960.4 L1430.8 958.0 L1432.1 961.0 L1433.4 969.9 L1434.8 985.3 L1436.1 1007.6 L1437.5 1037.3 L1438.8 1073.6 L1440.2 1109.7 L1441.5 1127.0" stroke="#0000ff"/>
<path d="M367.5 216.5 L368.8 173.7 L370.2 155.7 L371.5 159.7 L372.9 167.3 L374.2 178.6 L375.6 193.4 L376.9 209.8 L378.2 226.2 L379.6 244.9 L380.9 265.4 L382.3 284.8 L383.6 300.5 L385.0 312.0 L386.3 321.9 L387.6 326.2 L389.0 325.5 L390.3 323.5 L391.7 321.0 L393.0 318.4 L394.4 316.6 L395.7 316.0 L397.0 317.6 L398.4 321.7 L399.7 327.7 L401.1 334.6 L402.4 343.5 L403.7 356.9 L405.1 371.2 L406.4 385.0 L407.8 398.7 L409.1 407.4 L410.5 413.8 L411.8 416.3 L413.1 416.6 L414.5 416.8 L415.8 417.0 L417.2 417.6 L418.5 418.3 L419.9 419.4 L421.2 421.1 L422.5 425.0 L423.9 430.0 L425.2 434.9 L426.6 439.1 L427.9 443.7 L429.3 447.5 L430.6 449.1 L431.9 448.5 L433.3 447.0 L434.6 444.9 L436.0 442.9 L437.3 441.4 L438.7 440.9 L440.0 441.7 L441.3 444.1 L442.7 448.1 L444.0 453.5 L445.4 460.0 L446.7 467.3 L448.1 475.0 L449.4 482.3 L450.7 488.4 L452.1 492.6 L453.4 494.0 L454.8 492.1 L456.1 486.9 L457.4 479.9 L458.8 472.7 L460.1 466.7 L461.5 462.8 L462.8 461.4 L464.2 463.2 L465.5 468.2 L466.8 475.6 L468.2 484.7 L469.5 494.7 L470.9 505.1 L472.2 514.9 L473.6 523.6 L474.9 530.4 L476.2 536.1 L477.6 541.4 L478.9 547.1 L480.3 553.2 L481.6 559.8 L483.0 567.5 L484.3 573.0 L485.6 577.0 L487.0 580.4 L488.3 583.3 L489.7 585.8 L491.0 588.6 L492.4 591.0 L493.7 592.1 L495.0 591.3 L496.4 588.9 L497.7 585.3 L499.1 581.1 L500.4 576.9 L501.8 573.0 L503.1 570.1 L504.4 568.2 L505.8 567.5 L507.1 572.9 L508.5 581.5 L509.8 589.2 L511.1 597.5 L512.5 607.0 L513.8 617.4 L515.2 628.2 L516.5 639.9 L517.9 645.5 L519.2 643.5 L520.5 638.1 L521.9 630.2 L523.2 621.5 L524.6 613.1 L525.9 605.8 L527.3 600.3 L528.6 596.9 L529.9 595.7 L531.3 597.3 L532.6 601.5 L534.0 607.2 L535.3 613.3 L536.7 620.3 L538.0 629.0 L539.3 637.2 L540.7 644.7 L542.0 648.9 L543.4 651.8 L544.7 653.5 L546.1 654.6 L547.4 655.6 L548.7 657.2 L550.1 661.0 L551.4 667.4 L552.8 675.4 L554.1 686.1 L555.5 700.3 L556.8 715.6 L558.1 731.4 L559.5 750.2 L560.8 766.1 L562.2 772.8 L563.5 770.6 L564.8 764.6 L566.2 756.7 L567.5 748.6 L568.9 741.9 L570.2 737.5 L571.6 736.0 L572.9 737.8 L574.2 743.3 L575.6 752.1 L576.9 763.7 L578.3 777.1 L579.6 790.2 L581.0 800.2 L582.3 804.0 L583.6 802.1 L585.0 796.8 L586.3 789.5 L587.7 781.6 L589.0 774.3 L590.4 768.5 L591.7 764.9 L593.0 763.6 L594.4 765.5 L595.7 771.2 L597.1 780.4 L598.4 792.7 L599.8 806.9 L601.1 821.0 L602.4 831.8 L603.8 836.0 L605.1 832.9 L606.5 824.6 L607.8 813.4 L609.1 801.8 L610.5 791.5 L611.8 783.6 L613.2 778.7 L614.5 777.0 L615.9 779.3 L617.2 786.0 L618.5 797.2 L619.9 812.5 L621.2 830.9 L622.6 850.2 L623.9 865.8 L625.3 872.0 L626.6 867.3 L627.9 855.2 L629.3 839.7 L630.6 824.3 L632.0 811.2 L633.3 801.3 L634.7 795.3 L636.0 793.3 L637.3 795.6 L638.7 802.4 L640.0 813.8 L641.4 829.3 L642.7 848.0 L644.1 867.6 L645.4 883.6 L646.7 890.0 L648.1 884.8 L649.4 871.5 L650.8 854.7 L652.1 838.2 L653.5 824.2 L654.8 813.9 L656.1 807.6 L657.5 805.5 L658.8 807.8 L660.2 814.6 L661.5 825.9 L662.9 841.4 L664.2 860.1 L665.5 879.7 L666.9 895.6 L668.2 902.0 L669.6 897.3 L670.9 885.2 L672.2 869.6 L673.6 854.1 L674.9 840.9 L676.3 831.1 L677.6 825.0 L679.0 823.0 L680.3 825.3 L681.6 832.2 L683.0 843.5 L684.3 859.0 L685.7 877.8 L687.0 897.5 L688.4 913.6 L689.7 920.0 L691.0 914.4 L692.4 900.1 L693.7 882.3 L695.1 864.9 L696.4 850.4 L697.8 839.7 L699.1 833.2 L700.4 831.0 L701.8 833.3 L703.1 840.0 L704.5 851.2 L705.8 866.5 L707.2 884.9 L708.5 904.2 L709.8 919.8 L711.2 926.0 L712.5 919.1 L713.9 902.2 L715.2 881.5 L716.5 862.0 L717.9 846.0 L719.2 834.4 L720.6 827.4 L721.9 825.0 L723.3 826.9 L724.6 832.4 L725.9 841.4 L727.3 853.4 L728.6 867.1 L730.0 880.7 L731.3 891.0 L732.7 895.0 L734.0 891.2 L735.3 881.1 L736.7 867.8 L738.0 854.3 L739.4 842.6 L740.7 833.7 L742.1 828.3 L743.4 826.4 L744.7 828.9 L746.1 836.3 L747.4 848.7 L748.8 865.9 L750.1 887.3 L751.5 910.4 L752.8 929.9 L754.1 938.0 L755.5 933.5 L756.8 922.0 L758.2 907.1 L759.5 892.2 L760.9 879.4 L762.2 869.9 L763.5 864.0 L764.9 862.0 L766.2 864.3 L767.6 871.1 L768.9 882.4 L770.2 897.8 L771.6 916.4 L772.9 935.9 L774.3 951.7 L775.6 958.0 L777.0 951.7 L778.3 935.9 L779.6 916.4 L781.0 897.8 L782.3 882.4 L783.7 871.1 L785.0 864.3 L786.4 862.0 L787.7 864.3 L789.0 871.0 L790.4 882.1 L791.7 897.3 L793.1 915.5 L794.4 934.5 L795.8 949.9 L797.1 956.0 L798.4 950.2 L799.8 935.5 L801.1 917.2 L802.5 899.5 L803.8 884.7 L805.2 873.8 L806.5 867.2 L807.8 865.0 L809.2 867.3 L810.5 874.0 L811.9 885.2 L813.2 900.5 L814.6 918.9 L815.9 938.2 L817.2 953.8 L818.6 960.0 L819.9 955.0 L821.3 942.3 L822.6 926.0 L824.0 910.0 L825.3 896.4 L826.6 886.3 L828.0 880.1 L829.3 878.0 L830.7 880.2 L832.0 886.6 L833.3 897.1 L834.7 911.4 L836.0 928.4 L837.4 945.7 L838.7 959.6 L840.1 965.0 L841.4 960.2 L842.7 947.9 L844.1 932.1 L845.4 916.4 L846.8 903.1 L848.1 893.1 L849.5 887.1 L850.8 885.0 L852.1 887.2 L853.5 893.8 L854.8 904.5 L856.2 919.2 L857.5 936.7 L858.9 954.8 L860.2 969.3 L861.5 975.0 L862.9 969.8 L864.2 956.4 L865.6 939.4 L866.9 922.8 L868.3 908.8 L869.6 898.4 L870.9 892.1 L872.3 890.0 L873.6 892.4 L875.0 899.7 L876.3 911.9 L877.7 928.7 L879.0 949.4 L880.3 971.7 L881.7 990.4 L883.0 998.0 L884.4 990.5 L885.7 972.2 L887.0 950.2 L888.4 929.8 L889.7 913.1 L891.1 901.1 L892.4 893.8 L893.8 891.4 L895.1 893.9 L896.4 901.2 L897.8 913.5 L899.1 930.5 L900.5 951.5 L901.8 974.1 L903.2 993.2 L904.5 1001.0 L905.8 994.4 L907.2 977.8 L908.5 957.7 L909.9 938.5 L911.2 922.8 L912.6 911.3 L913.9 904.3 L915.2 902.0 L916.6 904.4 L917.9 911.5 L919.3 923.4 L920.6 939.8 L922.0 959.8 L923.3 981.1 L924.6 998.8 L926.0 1006.0 L927.3 1000.4 L928.7 986.1 L930.0 968.3 L931.4 950.9 L932.7 936.4 L934.0 925.7 L935.4 919.2 L936.7 917.0 L938.1 919.3 L939.4 926.1 L940.7 937.4 L942.1 952.8 L943.4 971.4 L944.8 990.9 L946.1 1006.7 L947.5 1013.0 L948.8 1006.9 L950.1 991.6 L951.5 972.7 L952.8 954.6 L954.2 939.4 L955.5 928.4 L956.9 921.7 L958.2 919.4 L959.5 921.7 L960.9 928.7 L962.2 940.2 L963.6 956.1 L964.9 975.3 L966.3 995.6 L967.6 1012.3 L968.9 1019.0 L970.3 1012.6 L971.6 996.7 L973.0 977.2 L974.3 958.5 L975.7 943.0 L977.0 931.7 L978.3 924.9 L979.7 922.6 L981.0 925.0 L982.4 932.0 L983.7 943.7 L985.1 959.7 L986.4 979.3 L987.7 1000.0 L989.1 1017.1 L990.4 1024.0 L991.8 1017.5 L993.1 1001.2 L994.4 981.2 L995.8 962.3 L997.1 946.6 L998.5 935.2 L999.8 928.3 L1001.2 926.0 L1002.5 928.3 L1003.8 935.0 L1005.2 946.1 L1006.5 961.3 L1007.9 979.5 L1009.2 998.5 L1010.6 1013.9 L1011.9 1020.0 L1013.2 1014.3 L1014.6 1000.0 L1015.9 982.0 L1017.3 964.6 L1018.6 950.1 L1020.0 939.3 L1021.3 932.8 L1022.6 930.6 L1024.0 932.8 L1025.3 939.4 L1026.7 950.3 L1028.0 965.2 L1029.4 983.0 L1030.7 1001.4 L1032.0 1016.1 L1033.4 1022.0 L1034.7 1014.9 L1036.1 997.5 L1037.4 976.4 L1038.8 956.5 L1040.1 940.3 L1041.4 928.5 L1042.8 921.4 L1044.1 919.0 L1045.5 921.3 L1046.8 928.3 L1048.1 939.8 L1049.5 955.5 L1050.8 974.7 L1052.2 994.8 L1053.5 1011.4 L1054.9 1018.0 L1056.2 1013.4 L1057.5 1001.6 L1058.9 986.4 L1060.2 971.2 L1061.6 958.3 L1062.9 948.6 L1064.3 942.6 L1065.6 940.6 L1066.9 942.7 L1068.3 948.9 L1069.6 959.2 L1071.0 973.0 L1072.3 989.3 L1073.7 1005.8 L1075.0 1018.9 L1076.3 1024.0 L1077.7 1018.7 L1079.0 1005.2 L1080.4 988.2 L1081.7 971.5 L1083.1 957.5 L1084.4 947.1 L1085.7 940.7 L1087.1 938.6 L1088.4 940.9 L1089.8 947.7 L1091.1 958.9 L1092.5 974.2 L1093.8 992.7 L1095.1 1012.1 L1096.5 1027.7 L1097.8 1034.0 L1099.2 1028.3 L1100.5 1013.8 L1101.8 995.7 L1103.2 978.2 L1104.5 963.5 L1105.9 952.8 L1107.2 946.2 L1108.6 944.0 L1109.9 946.4 L1111.2 953.6 L1112.6 965.5 L1113.9 982.0 L1115.3 1002.2 L1116.6 1023.8 L1118.0 1041.7 L1119.3 1049.0 L1120.6 1040.9 L1122.0 1021.4 L1123.3 998.3 L1124.7 976.9 L1126.0 959.7 L1127.4 947.3 L1128.7 939.9 L1130.0 937.4 L1131.4 939.9 L1132.7 947.3 L1134.1 959.7 L1135.4 976.9 L1136.8 998.3 L1138.1 1021.4 L1139.4 1040.9 L1140.8 1049.0 L1142.1 1042.9 L1143.5 1027.5 L1144.8 1008.5 L1146.2 990.3 L1147.5 975.1 L1148.8 964.0 L1150.2 957.3 L1151.5 955.0 L1152.9 957.3 L1154.2 964.2 L1155.5 975.6 L1156.9 991.3 L1158.2 1010.2 L1159.6 1030.2 L1160.9 1046.5 L1162.3 1053.0 L1163.6 1045.8 L1164.9 1028.1 L1166.3 1006.8 L1167.6 986.8 L1169.0 970.4 L1170.3 958.5 L1171.7 951.4 L1173.0 949.0 L1174.3 951.4 L1175.7 958.6 L1177.0 970.6 L1178.4 987.2 L1179.7 1007.6 L1181.1 1029.4 L1182.4 1047.6 L1183.7 1055.0 L1185.1 1049.3 L1186.4 1035.0 L1187.8 1017.0 L1189.1 999.6 L1190.5 985.0 L1191.8 974.2 L1193.1 967.7 L1194.5 965.5 L1195.8 967.7 L1197.2 974.2 L1198.5 985.0 L1199.8 999.6 L1201.2 1017.0 L1202.5 1035.0 L1203.9 1049.3 L1205.2 1055.0 L1206.6 1048.3 L1207.9 1031.5 L1209.2 1011.1 L1210.6 991.8 L1211.9 975.9 L1213.3 964.3 L1214.6 957.3 L1216.0 955.0 L1217.3 957.4 L1218.6 964.6 L1220.0 976.5 L1221.3 993.0 L1222.7 1013.2 L1224.0 1034.8 L1225.4 1052.7 L1226.7 1060.0 L1228.0 1052.6 L1229.4 1034.4 L1230.7 1012.6 L1232.1 992.2 L1233.4 975.6 L1234.8 963.6 L1236.1 956.4 L1237.4 954.0 L1238.8 956.4 L1240.1 963.4 L1241.5 975.1 L1242.8 991.3 L1244.2 1010.9 L1245.5 1031.8 L1246.8 1049.0 L1248.2 1056.0 L1249.5 1049.8 L1250.9 1034.2 L1252.2 1014.9 L1253.6 996.5 L1254.9 981.2 L1256.2 970.0 L1257.6 963.3 L1258.9 961.0 L1260.3 963.3 L1261.6 970.2 L1262.9 981.6 L1264.3 997.2 L1265.6 1016.1 L1267.0 1035.9 L1268.3 1052.1 L1269.7 1058.6 L1271.0 1052.0 L1272.3 1035.6 L1273.7 1015.5 L1275.0 996.4 L1276.4 980.7 L1277.7 969.2 L1279.1 962.3 L1280.4 960.0 L1281.7 962.3 L1283.1 969.2 L1284.4 980.6 L1285.8 996.3 L1287.1 1015.2 L1288.5 1035.2 L1289.8 1051.5 L1291.1 1058.0 L1292.5 1051.8 L1293.8 1036.2 L1295.2 1016.9 L1296.5 998.5 L1297.9 983.2 L1299.2 972.0 L1300.5 965.3 L1301.9 963.0 L1303.2 965.3 L1304.6 972.0 L1305.9 983.1 L1307.2 998.3 L1308.6 1016.5 L1309.9 1035.5 L1311.3 1050.9 L1312.6 1057.0 L1314.0 1050.9 L1315.3 1035.5 L1316.6 1016.5 L1318.0 998.3 L1319.3 983.1 L1320.7 972.0 L1322.0 965.3 L1323.4 963.0 L1324.7 965.3 L1326.0 972.3 L1327.4 983.8 L1328.7 999.5 L1330.1 1018.7 L1331.4 1038.8 L1332.8 1055.4 L1334.1 1062.0 L1335.4 1055.5 L1336.8 1039.2 L1338.1 1019.2 L1339.5 1000.3 L1340.8 984.6 L1342.2 973.2 L1343.5 966.3 L1344.8 964.0 L1346.2 966.4 L1347.5 973.4 L1348.9 985.1 L1350.2 1001.3 L1351.6 1020.9 L1352.9 1041.8 L1354.2 1059.0 L1355.6 1066.0 L1356.9 1058.9 L1358.3 1041.5 L1359.6 1020.4 L1361.0 1000.5 L1362.3 984.3 L1363.6 972.5 L1365.0 965.4 L1366.3 963.0 L1367.7 965.3 L1369.0 972.4 L1370.3 984.0 L1371.7 999.9 L1373.0 1019.4 L1374.4 1039.9 L1375.7 1056.8 L1377.1 1063.6 L1378.4 1057.0 L1379.7 1040.6 L1381.1 1020.5 L1382.4 1001.4 L1383.8 985.7 L1385.1 974.2 L1386.5 967.3 L1387.8 965.0 L1389.1 967.3 L1390.5 974.1 L1391.8 985.4 L1393.2 1000.9 L1394.5 1019.6 L1395.9 1039.1 L1397.2 1055.0 L1398.5 1061.4 L1399.9 1055.2 L1401.2 1039.8 L1402.6 1020.7 L1403.9 1002.4 L1405.3 987.2 L1406.6 976.0 L1407.9 969.3 L1409.3 967.0 L1410.6 969.3 L1412.0 976.3 L1413.3 987.8 L1414.7 1003.5 L1416.0 1022.7 L1417.3 1042.8 L1418.7 1059.4 L1420.0 1066.0 L1421.4 1058.7 L1422.7 1040.8 L1424.0 1019.2 L1425.4 999.0 L1426.7 982.5 L1428.1 970.6 L1429.4 963.4 L1430.8 961.0 L1432.1 964.0 L1433.4 972.9 L1434.8 988.3 L1436.1 1010.6 L1437.5 1040.3 L1438.8 1076.6 L1440.2 1112.7 L1441.5 1130.0" stroke="#ff00ff"/>
<path d="M367.5 216.5 L368.8 173.7 L370.2 155.7 L371.5 159.7 L372.9 167.3 L374.2 178.6 L375.6 193.4 L376.9 209.8 L378.2 226.2 L379.6 244.9 L380.9 265.4 L382.3 284.8 L383.6 300.5 L385.0 312.0 L386.3 321.9 L387.6 326.2 L389.0 325.5 L390.3 323.5 L391.7 321.0 L393.0 318.4 L394.4 316.6 L395.7 316.0 L397.0 317.6 L398.4 321.7 L399.7 327.7 L401.1 334.6 L402.4 343.5 L403.7 356.9 L405.1 371.2 L406.4 385.0 L407.8 398.8 L409.1 407.3 L410.5 413.5 L411.8 416.2 L413.1 416.1 L414.5 416.1 L415.8 416.0 L417.2 416.3 L418.5 417.2 L419.9 418.4 L421.2 420.0 L422.5 423.4 L423.9 427.7 L425.2 432.0 L426.6 436.0 L427.9 440.6 L429.3 444.4 L430.6 446.0 L431.9 445.4 L433.3 443.8 L434.6 441.5 L436.0 439.0 L437.3 436.8 L438.7 435.3 L440.0 434.8 L441.3 435.6 L442.7 437.9 L444.0 441.6 L445.4 446.5 L446.7 452.3 L448.1 458.5 L449.4 464.4 L450.7 469.4 L452.1 472.8 L453.4 474.0 L454.8 473.2 L456.1 471.0 L457.4 468.0 L458.8 464.7 L460.1 461.9 L461.5 460.0 L462.8 459.3 L464.2 460.7 L465.5 464.5 L466.8 470.2 L468.2 477.4 L469.5 485.4 L470.9 493.9 L472.2 502.3 L473.6 510.1 L474.9 517.1 L476.2 524.1 L477.6 527.3 L478.9 529.4 L480.3 531.0 L481.6 532.2 L483.0 533.6 L484.3 535.3 L485.6 537.8 L487.0 541.7 L488.3 546.8 L489.7 552.6 L491.0 559.8 L492.4 566.4 L493.7 572.7 L495.0 579.1 L496.4 583.9 L497.7 585.9 L499.1 585.1 L500.4 582.9 L501.8 579.8 L503.1 576.4 L504.4 573.5 L505.8 571.6 L507.1 570.9 L508.5 573.4 L509.8 578.5 L511.1 584.1 L512.5 591.2 L513.8 598.1 L515.2 604.8 L516.5 611.3 L517.9 617.9 L519.2 624.3 L520.5 628.7 L521.9 631.2 L523.2 631.0 L524.6 630.5 L525.9 630.0 L527.3 629.8 L528.6 630.9 L529.9 633.4 L531.3 636.4 L532.6 639.0 L534.0 641.9 L535.3 644.9 L536.7 647.3 L538.0 648.2 L539.3 647.7 L540.7 646.5 L542.0 644.7 L543.4 643.1 L544.7 641.8 L546.1 641.4 L547.4 642.5 L548.7 645.4 L550.1 649.1 L551.4 655.6 L552.8 663.4 L554.1 670.9 L555.5 681.7 L556.8 710.1 L558.1 730.0 L559.5 728.8 L560.8 725.5 L562.2 720.6 L563.5 714.9 L564.8 709.2 L566.2 704.2 L567.5 700.3 L568.9 697.8 L570.2 697.0 L571.6 699.1 L572.9 705.5 L574.2 716.2 L575.6 731.5 L576.9 751.1 L578.3 774.5 L579.6 799.4 L581.0 820.4 L582.3 829.0 L583.6 823.1 L585.0 808.2 L586.3 789.6 L587.7 771.7 L589.0 756.8 L590.4 745.9 L591.7 739.2 L593.0 737.0 L594.4 739.5 L595.7 746.9 L597.1 759.3 L598.4 776.6 L599.8 798.0 L601.1 821.2 L602.4 840.9 L603.8 849.0 L605.1 843.4 L606.5 829.1 L607.8 811.3 L609.1 793.9 L610.5 779.4 L611.8 768.7 L613.2 762.2 L614.5 760.0 L615.9 762.5 L617.2 769.9 L618.5 782.3 L619.9 799.6 L621.2 821.0 L622.6 844.2 L623.9 863.9 L625.3 872.0 L626.6 866.1 L627.9 851.2 L629.3 832.6 L630.6 814.7 L632.0 799.8 L633.3 788.9 L634.7 782.2 L636.0 780.0 L637.3 782.4 L638.7 789.7 L640.0 801.9 L641.4 818.7 L642.7 839.4 L644.1 861.7 L645.4 880.4 L646.7 888.0 L648.1 881.5 L649.4 865.2 L650.8 845.2 L652.1 826.3 L653.5 810.6 L654.8 799.2 L656.1 792.3 L657.5 790.0 L658.8 792.5 L660.2 799.8 L661.5 812.1 L662.9 829.2 L664.2 850.2 L665.5 873.0 L666.9 892.1 L668.2 900.0 L669.6 893.4 L670.9 876.8 L672.2 856.7 L673.6 837.5 L674.9 821.8 L676.3 810.3 L677.6 803.3 L679.0 801.0 L680.3 803.6 L681.6 811.3 L683.0 824.3 L684.3 842.6 L685.7 865.4 L687.0 890.8 L688.4 912.7 L689.7 922.0 L691.0 912.7 L692.4 890.8 L693.7 865.4 L695.1 842.6 L696.4 824.3 L697.8 811.3 L699.1 803.6 L700.4 801.0 L701.8 803.1 L703.1 809.3 L704.5 819.5 L705.8 833.3 L707.2 849.5 L708.5 866.0 L709.8 878.9 L711.2 884.0 L712.5 880.0 L713.9 869.4 L715.2 855.6 L716.5 841.7 L717.9 829.6 L719.2 820.5 L720.6 814.9 L721.9 813.0 L723.3 814.7 L724.6 819.7 L725.9 827.8 L727.3 838.4 L728.6 850.4 L730.0 862.0 L731.3 870.7 L732.7 874.0 L734.0 872.2 L735.3 867.3 L736.7 860.5 L738.0 853.0 L739.4 846.1 L740.7 840.7 L742.1 837.2 L743.4 836.0 L744.7 837.7 L746.1 842.7 L747.4 850.7 L748.8 861.1 L750.1 872.9 L751.5 884.3 L752.8 892.8 L754.1 896.0 L755.5 892.6 L756.8 883.5 L758.2 871.5 L759.5 859.1 L760.9 848.2 L762.2 839.9 L763.5 834.8 L764.9 833.0 L766.2 835.1 L767.6 841.2 L768.9 851.2 L770.2 864.7 L771.6 880.5 L772.9 896.6 L774.3 909.1 L775.6 914.0 L777.0 911.2 L778.3 903.8 L779.6 893.7 L781.0 883.0 L782.3 873.5 L783.7 866.2 L785.0 861.6 L786.4 860.0 L787.7 862.1 L789.0 868.4 L790.4 878.8 L791.7 892.8 L793.1 909.4 L794.4 926.4 L795.8 939.8 L797.1 945.0 L798.4 939.7 L799.8 926.1 L801.1 908.9 L802.5 892.1 L803.8 878.0 L805.2 867.5 L806.5 861.1 L807.8 859.0 L809.2 861.5 L810.5 868.9 L811.9 881.2 L813.2 898.4 L814.6 919.6 L815.9 942.6 L817.2 962.0 L818.6 970.0 L819.9 963.9 L821.3 948.5 L822.6 929.5 L824.0 911.3 L825.3 896.1 L826.6 885.0 L828.0 878.3 L829.3 876.0 L830.7 878.4 L832.0 885.7 L833.3 897.9 L834.7 914.7 L836.0 935.4 L837.4 957.7 L838.7 976.4 L840.1 984.0 L841.4 977.1 L842.7 960.2 L844.1 939.5 L845.4 920.0 L846.8 904.0 L848.1 892.4 L849.5 885.4 L850.8 883.0 L852.1 885.4 L853.5 892.4 L854.8 904.1 L856.2 920.3 L857.5 939.9 L858.9 960.8 L860.2 978.0 L861.5 985.0 L862.9 978.8 L864.2 963.2 L865.6 943.9 L866.9 925.5 L868.3 910.2 L869.6 899.0 L870.9 892.3 L872.3 890.0 L873.6 892.4 L875.0 899.7 L876.3 911.9 L877.7 928.7 L879.0 949.4 L880.3 971.7 L881.7 990.4 L883.0 998.0 L884.4 990.2 L885.7 971.1 L887.0 948.5 L888.4 927.5 L889.7 910.5 L891.1 898.2 L892.4 890.9 L893.8 888.4 L895.1 890.9 L896.4 898.3 L897.8 910.7 L899.1 927.9 L900.5 949.3 L901.8 972.4 L903.2 991.9 L904.5 1000.0 L905.8 993.1 L907.2 976.2 L908.5 955.5 L909.9 936.0 L911.2 920.0 L912.6 908.4 L913.9 901.4 L915.2 899.0 L916.6 901.4 L917.9 908.6 L919.3 920.5 L920.6 937.0 L922.0 957.2 L923.3 978.8 L924.6 996.7 L926.0 1004.0 L927.3 997.6 L928.7 981.5 L930.0 961.8 L931.4 943.0 L932.7 927.5 L934.0 916.2 L935.4 909.3 L936.7 907.0 L938.1 909.4 L939.4 916.4 L940.7 928.1 L942.1 944.3 L943.4 963.9 L944.8 984.8 L946.1 1002.0 L947.5 1009.0 L948.8 1002.5 L950.1 986.1 L951.5 966.2 L952.8 947.2 L954.2 931.5 L955.5 920.1 L956.9 913.2 L958.2 910.9 L959.5 913.4 L960.9 920.7 L962.2 933.0 L963.6 950.1 L964.9 971.2 L966.3 993.9 L967.6 1013.1 L968.9 1021.0 L970.3 1013.5 L971.6 995.1 L973.0 973.1 L974.3 952.6 L975.7 935.9 L977.0 923.8 L978.3 916.5 L979.7 914.1 L981.0 916.5 L982.4 923.8 L983.7 935.9 L985.1 952.6 L986.4 973.1 L987.7 995.1 L989.1 1013.5 L990.4 1021.0 L991.8 1013.6 L993.1 995.4 L994.4 973.6 L995.8 953.2 L997.1 936.6 L998.5 924.6 L999.8 917.4 L1001.2 915.0 L1002.5 917.4 L1003.8 924.6 L1005.2 936.5 L1006.5 953.0 L1007.9 973.2 L1009.2 994.8 L1010.6 1012.7 L1011.9 1020.0 L1013.2 1014.0 L1014.6 999.0 L1015.9 980.4 L1017.3 962.4 L1018.6 947.5 L1020.0 936.5 L1021.3 929.8 L1022.6 927.6 L1024.0 929.9 L1025.3 936.6 L1026.7 947.8 L1028.0 963.0 L1029.4 981.3 L1030.7 1000.4 L1032.0 1015.8 L1033.4 1022.0 L1034.7 1014.8 L1036.1 997.1 L1037.4 975.8 L1038.8 955.8 L1040.1 939.4 L1041.4 927.5 L1042.8 920.4 L1044.1 918.0 L1045.5 920.3 L1046.8 927.3 L1048.1 938.9 L1049.5 954.8 L1050.8 974.1 L1052.2 994.5 L1053.5 1011.3 L1054.9 1018.0 L1056.2 1013.2 L1057.5 1000.7 L1058.9 984.9 L1060.2 969.1 L1061.6 955.7 L1062.9 945.8 L1064.3 939.7 L1065.6 937.6 L1066.9 939.8 L1068.3 946.1 L1069.6 956.6 L1071.0 970.8 L1072.3 987.7 L1073.7 1004.9 L1075.0 1018.6 L1076.3 1024.0 L1077.7 1017.8 L1079.0 1002.2 L1080.4 983.0 L1081.7 964.6 L1083.1 949.3 L1084.4 938.1 L1085.7 931.4 L1087.1 929.1 L1088.4 931.5 L1089.8 938.7 L1091.1 950.6 L1092.5 967.1 L1093.8 987.3 L1095.1 1008.8 L1096.5 1026.7 L1097.8 1034.0 L1099.2 1026.6 L1100.5 1008.4 L1101.8 986.6 L1103.2 966.2 L1104.5 949.6 L1105.9 937.6 L1107.2 930.4 L1108.6 928.0 L1109.9 930.5 L1111.2 938.1 L1112.6 950.8 L1113.9 968.5 L1115.3 990.6 L1116.6 1014.7 L1118.0 1035.4 L1119.3 1044.0 L1120.6 1036.4 L1122.0 1017.8 L1123.3 995.7 L1124.7 975.0 L1126.0 958.2 L1127.4 946.1 L1128.7 938.8 L1130.0 936.4 L1131.4 938.8 L1132.7 946.2 L1134.1 958.4 L1135.4 975.2 L1136.8 996.1 L1138.1 1018.5 L1139.4 1037.3 L1140.8 1045.0 L1142.1 1037.7 L1143.5 1019.8 L1144.8 998.2 L1146.2 978.0 L1147.5 961.5 L1148.8 949.6 L1150.2 942.4 L1151.5 940.0 L1152.9 942.4 L1154.2 949.7 L1155.5 961.8 L1156.9 978.5 L1158.2 999.0 L1159.6 1021.0 L1160.9 1039.5 L1162.3 1047.0 L1163.6 1040.4 L1164.9 1023.8 L1166.3 1003.7 L1167.6 984.5 L1169.0 968.8 L1170.3 957.3 L1171.7 950.3 L1173.0 948.0 L1174.3 950.3 L1175.7 957.3 L1177.0 968.9 L1178.4 984.8 L1179.7 1004.1 L1181.1 1024.5 L1182.4 1041.3 L1183.7 1048.0 L1185.1 1041.3 L1186.4 1024.7 L1187.8 1004.4 L1189.1 985.2 L1190.5 969.3 L1191.8 957.8 L1193.1 950.8 L1194.5 948.5 L1195.8 950.9 L1197.2 958.2 L1198.5 970.2 L1199.8 986.9 L1201.2 1007.3 L1202.5 1029.2 L1203.9 1047.5 L1205.2 1055.0 L1206.6 1047.4 L1207.9 1028.9 L1209.2 1006.7 L1210.6 986.1 L1211.9 969.3 L1213.3 957.2 L1214.6 949.9 L1216.0 947.5 L1217.3 949.9 L1218.6 957.0 L1220.0 968.8 L1221.3 985.1 L1222.7 1005.1 L1224.0 1026.3 L1225.4 1043.9 L1226.7 1051.0 L1228.0 1043.8 L1229.4 1025.9 L1230.7 1004.5 L1232.1 984.4 L1233.4 968.0 L1234.8 956.1 L1236.1 948.9 L1237.4 946.5 L1238.8 949.0 L1240.1 956.3 L1241.5 968.6 L1242.8 985.6 L1244.2 1006.5 L1245.5 1029.1 L1246.8 1048.2 L1248.2 1056.0 L1249.5 1049.0 L1250.9 1031.6 L1252.2 1010.7 L1253.6 990.9 L1254.9 974.7 L1256.2 963.0 L1257.6 955.9 L1258.9 953.5 L1260.3 955.9 L1261.6 963.1 L1262.9 975.0 L1264.3 991.5 L1265.6 1011.7 L1267.0 1033.3 L1268.3 1051.3 L1269.7 1058.6 L1271.0 1051.2 L1272.3 1033.0 L1273.7 1011.1 L1275.0 990.8 L1276.4 974.2 L1277.7 962.1 L1279.1 954.9 L1280.4 952.5 L1281.7 954.9 L1283.1 962.1 L1284.4 974.1 L1285.8 990.6 L1287.1 1010.9 L1288.5 1032.6 L1289.8 1050.6 L1291.1 1058.0 L1292.5 1051.0 L1293.8 1033.6 L1295.2 1012.7 L1296.5 992.9 L1297.9 976.7 L1299.2 965.0 L1300.5 957.9 L1301.9 955.5 L1303.2 957.9 L1304.6 964.9 L1305.9 976.6 L1307.2 992.7 L1308.6 1012.2 L1309.9 1033.0 L1311.3 1050.1 L1312.6 1057.0 L1314.0 1050.1 L1315.3 1033.0 L1316.6 1012.2 L1318.0 992.7 L1319.3 976.6 L1320.7 964.9 L1322.0 957.9 L1323.4 955.5 L1324.7 957.9 L1326.0 965.1 L1327.4 977.0 L1328.7 993.4 L1330.1 1013.5 L1331.4 1034.9 L1332.8 1052.8 L1334.1 1060.0 L1335.4 1052.9 L1336.8 1035.3 L1338.1 1014.1 L1339.5 994.1 L1340.8 977.8 L1342.2 966.0 L1343.5 958.9 L1344.8 956.5 L1346.2 958.9 L1347.5 966.2 L1348.9 978.2 L1350.2 994.9 L1351.6 1015.3 L1352.9 1037.2 L1354.2 1055.5 L1355.6 1063.0 L1356.9 1055.4 L1358.3 1036.9 L1359.6 1014.7 L1361.0 994.1 L1362.3 977.3 L1363.6 965.2 L1365.0 957.9 L1366.3 955.5 L1367.7 957.9 L1369.0 965.1 L1370.3 977.2 L1371.7 993.8 L1373.0 1014.1 L1374.4 1036.0 L1375.7 1054.2 L1377.1 1061.6 L1378.4 1054.4 L1379.7 1036.7 L1381.1 1015.3 L1382.4 995.3 L1383.8 978.9 L1385.1 967.0 L1386.5 959.9 L1387.8 957.5 L1389.1 959.9 L1390.5 967.0 L1391.8 978.9 L1393.2 995.2 L1394.5 1015.2 L1395.9 1036.5 L1397.2 1054.2 L1398.5 1061.4 L1399.9 1054.4 L1401.2 1037.2 L1402.6 1016.4 L1403.9 996.8 L1405.3 980.6 L1406.6 968.9 L1407.9 961.9 L1409.3 959.5 L1410.6 961.8 L1412.0 968.8 L1413.3 980.5 L1414.7 996.4 L1416.0 1015.8 L1417.3 1036.3 L1418.7 1053.2 L1420.0 1060.0 L1421.4 1053.3 L1422.7 1036.5 L1424.0 1016.1 L1425.4 996.8 L1426.7 980.9 L1428.1 969.3 L1429.4 962.3 L1430.8 960.0 L1432.1 963.0 L1433.4 971.9 L1434.8 987.2 L1436.1 1009.3 L1437.5 1038.8 L1438.8 1074.6 L1440.2 1110.2 L1441.5 1127.0" stroke="#00ffff"/>
<path d="M367.5 222.5 L368.8 179.2 L370.2 161.0 L371.5 165.4 L372.9 173.7 L374.2 185.0 L375.6 199.3 L376.9 215.0 L378.2 231.2 L379.6 250.6 L380.9 270.9 L382.3 289.6 L383.6 304.1 L385.0 315.9 L386.3 322.0 L387.6 321.0 L389.0 318.3 L390.3 314.4 L391.7 310.4 L393.0 306.9 L394.4 304.5 L395.7 303.7 L397.0 305.7 L398.4 310.9 L399.7 318.3 L401.1 326.6 L402.4 336.0 L403.7 349.3 L405.1 363.9 L406.4 377.3 L407.8 391.5 L409.1 400.4 L410.5 404.4 L411.8 407.2 L413.1 409.3 L414.5 410.9 L415.8 411.9 L417.2 412.7 L418.5 413.5 L419.9 414.7 L421.2 417.0 L422.5 425.0 L423.9 437.0 L425.2 449.3 L426.6 458.8 L427.9 468.3 L429.3 477.5 L430.6 484.3 L431.9 487.0 L433.3 486.0 L434.6 483.5 L436.0 480.1 L437.3 476.8 L438.7 474.5 L440.0 473.7 L441.3 475.2 L442.7 479.8 L444.0 487.4 L445.4 498.3 L446.7 512.6 L448.1 530.4 L449.4 551.6 L450.7 575.5 L452.1 599.6 L453.4 619.5 L454.8 627.1 L456.1 623.6 L457.4 614.4 L458.8 602.6 L460.1 591.1 L461.5 581.9 L462.8 576.0 L464.2 574.0 L465.5 576.3 L466.8 583.2 L468.2 595.0 L469.5 612.0 L470.9 634.4 L472.2 662.2 L473.6 693.8 L474.9 722.5 L476.2 735.0 L477.6 727.8 L478.9 710.2 L480.3 689.6 L481.6 671.2 L483.0 657.3 L484.3 648.8 L485.6 646.0 L487.0 648.9 L488.3 657.6 L489.7 672.5 L491.0 693.9 L492.4 722.0 L493.7 755.5 L495.0 787.7 L496.4 802.5 L497.7 792.7 L499.1 769.7 L500.4 743.5 L501.8 720.0 L503.1 701.3 L504.4 688.1 L505.8 680.2 L507.1 677.6 L508.5 680.4 L509.8 688.9 L511.1 703.4 L512.5 724.2 L513.8 751.2 L515.2 782.9 L516.5 812.6 L517.9 826.0 L519.2 814.8 L520.5 788.9 L521.9 760.4 L523.2 735.3 L524.6 715.7 L525.9 701.9 L527.3 693.7 L528.6 691.0 L529.9 693.8 L531.3 702.3 L532.6 716.7 L534.0 737.2 L535.3 764.0 L536.7 795.2 L538.0 824.3 L539.3 837.3 L540.7 829.7 L542.0 811.2 L543.4 789.0 L544.7 768.4 L546.1 751.6 L547.4 739.5 L548.7 732.2 L550.1 729.8 L551.4 732.6 L552.8 740.9 L554.1 755.0 L555.5 775.2 L556.8 801.2 L558.1 831.2 L559.5 858.8 L560.8 871.0 L562.2 861.7 L563.5 839.8 L564.8 814.4 L566.2 791.6 L567.5 773.3 L568.9 760.3 L570.2 752.6 L571.6 750.0 L572.9 752.5 L574.2 760.0 L575.6 772.6 L576.9 790.1 L578.3 811.8 L579.6 835.5 L581.0 855.6 L582.3 864.0 L583.6 858.0 L585.0 842.8 L586.3 824.1 L587.7 806.0 L589.0 791.0 L590.4 779.9 L591.7 773.2 L593.0 771.0 L594.4 773.7 L595.7 781.9 L597.1 795.7 L598.4 815.3 L599.8 840.4 L601.1 868.9 L602.4 894.8 L603.8 906.0 L605.1 896.9 L606.5 875.1 L607.8 850.1 L609.1 827.4 L610.5 809.2 L611.8 796.3 L613.2 788.6 L614.5 786.0 L615.9 788.8 L617.2 797.3 L618.5 811.6 L619.9 832.2 L621.2 858.9 L622.6 890.0 L623.9 919.0 L625.3 932.0 L626.6 921.2 L627.9 896.2 L629.3 868.3 L630.6 843.7 L632.0 824.4 L633.3 810.8 L634.7 802.7 L636.0 800.0 L637.3 802.8 L638.7 811.3 L640.0 825.6 L641.4 846.2 L642.7 872.9 L644.1 904.0 L645.4 933.0 L646.7 946.0 L648.1 935.1 L649.4 909.8 L650.8 881.7 L652.1 856.9 L653.5 837.5 L654.8 823.8 L656.1 815.7 L657.5 813.0 L658.8 815.7 L660.2 823.9 L661.5 837.7 L662.9 857.3 L664.2 882.4 L665.5 910.9 L666.9 936.8 L668.2 948.0 L669.6 938.9 L670.9 917.1 L672.2 892.1 L673.6 869.4 L674.9 851.2 L676.3 838.3 L677.6 830.6 L679.0 828.0 L680.3 830.6 L681.6 838.3 L683.0 851.3 L684.3 869.6 L685.7 892.4 L687.0 917.8 L688.4 939.7 L689.7 949.0 L691.0 941.5 L692.4 923.0 L693.7 901.0 L695.1 880.5 L696.4 863.8 L697.8 851.7 L699.1 844.4 L700.4 842.0 L701.8 844.9 L703.1 853.6 L704.5 868.3 L705.8 889.6 L707.2 917.5 L708.5 950.7 L709.8 982.5 L711.2 997.0 L712.5 981.7 L713.9 948.7 L715.2 914.7 L716.5 886.2 L717.9 864.6 L719.2 849.7 L720.6 840.9 L721.9 838.0 L723.3 840.8 L724.6 849.4 L725.9 863.9 L727.3 884.7 L728.6 911.8 L730.0 943.6 L731.3 973.5 L732.7 987.0 L734.0 975.2 L735.3 948.2 L736.7 918.7 L738.0 893.0 L739.4 873.1 L740.7 859.0 L742.1 850.8 L743.4 848.0 L744.7 850.9 L746.1 859.5 L747.4 874.2 L748.8 895.3 L750.1 923.0 L751.5 955.7 L752.8 986.8 L754.1 1001.0 L755.5 989.2 L756.8 962.2 L758.2 932.7 L759.5 907.0 L760.9 887.1 L762.2 873.0 L763.5 864.8 L764.9 862.0 L766.2 864.8 L767.6 873.4 L768.9 888.0 L770.2 909.0 L771.6 936.4 L772.9 968.6 L774.3 999.2 L775.6 1013.0 L777.0 1000.7 L778.3 972.8 L779.6 942.6 L781.0 916.5 L782.3 896.3 L783.7 882.1 L785.0 873.8 L786.4 871.0 L787.7 873.9 L789.0 882.5 L790.4 897.2 L791.7 918.3 L793.1 946.0 L794.4 978.7 L795.8 1009.8 L797.1 1024.0 L798.4 1010.9 L799.8 981.5 L801.1 950.2 L802.5 923.4 L803.8 902.7 L805.2 888.3 L806.5 879.8 L807.8 877.0 L809.2 879.9 L810.5 888.6 L811.9 903.5 L813.2 925.0 L814.6 953.3 L815.9 987.0 L817.2 1019.5 L818.6 1034.5 L819.9 1021.3 L821.3 991.8 L822.6 960.3 L824.0 933.4 L825.3 912.8 L826.6 898.3 L828.0 889.8 L829.3 887.0 L830.7 889.9 L832.0 898.6 L833.3 913.5 L834.7 934.9 L836.0 963.0 L837.4 996.6 L838.7 1028.8 L840.1 1043.7 L841.4 1030.1 L842.7 1000.0 L844.1 968.0 L845.4 940.8 L846.8 919.9 L848.1 905.4 L849.5 896.8 L850.8 894.0 L852.1 896.8 L853.5 905.4 L854.8 919.9 L856.2 940.6 L857.5 967.7 L858.9 999.4 L860.2 1029.3 L861.5 1042.7 L862.9 1030.4 L864.2 1002.7 L865.6 972.5 L866.9 946.5 L868.3 926.3 L869.6 912.1 L870.9 903.8 L872.3 901.0 L873.6 903.9 L875.0 912.5 L876.3 927.2 L877.7 948.3 L879.0 976.0 L880.3 1008.7 L881.7 1039.8 L883.0 1054.0 L884.4 1040.7 L885.7 1011.1 L887.0 979.5 L888.4 952.5 L889.7 931.8 L891.1 917.3 L892.4 908.8 L893.8 906.0 L895.1 908.9 L896.4 917.6 L897.8 932.3 L899.1 953.6 L900.5 981.5 L901.8 1014.7 L903.2 1046.5 L904.5 1061.0 L905.8 1047.9 L907.2 1018.5 L908.5 987.2 L909.9 960.4 L911.2 939.7 L912.6 925.3 L913.9 916.8 L915.2 914.0 L916.6 916.8 L917.9 925.4 L919.3 940.0 L920.6 960.8 L922.0 988.1 L923.3 1020.1 L924.6 1050.3 L926.0 1064.0 L927.3 1051.4 L928.7 1022.9 L930.0 992.3 L931.4 965.9 L932.7 945.5 L934.0 931.2 L935.4 922.8 L936.7 920.0 L938.1 922.8 L939.4 931.2 L940.7 945.5 L942.1 965.9 L943.4 992.3 L944.8 1022.9 L946.1 1051.4 L947.5 1064.0 L948.8 1052.0 L950.1 1024.7 L951.5 995.0 L952.8 969.2 L954.2 949.1 L955.5 935.1 L956.9 926.8 L958.2 924.0 L959.5 926.8 L960.9 935.2 L962.2 949.6 L963.6 970.0 L964.9 996.6 L966.3 1027.5 L967.6 1056.2 L968.9 1069.0 L970.3 1056.7 L971.6 1028.8 L973.0 998.6 L974.3 972.5 L975.7 952.3 L977.0 938.1 L978.3 929.8 L979.7 927.0 L981.0 929.8 L982.4 938.4 L983.7 953.0 L985.1 974.0 L986.4 1001.4 L987.7 1033.6 L989.1 1064.2 L990.4 1078.0 L991.8 1065.0 L993.1 1036.0 L994.4 1004.9 L995.8 978.2 L997.1 957.6 L998.5 943.3 L999.8 934.8 L1001.2 932.0 L1002.5 934.8 L1003.8 943.4 L1005.2 958.0 L1006.5 979.0 L1007.9 1006.4 L1009.2 1038.6 L1010.6 1069.2 L1011.9 1083.0 L1013.2 1069.9 L1014.6 1040.5 L1015.9 1009.2 L1017.3 982.4 L1018.6 961.7 L1020.0 947.3 L1021.3 938.8 L1022.6 936.0 L1024.0 938.8 L1025.3 947.2 L1026.7 961.6 L1028.0 982.0 L1029.4 1008.6 L1030.7 1039.5 L1032.0 1068.2 L1033.4 1081.0 L1034.7 1068.8 L1036.1 1041.3 L1037.4 1011.3 L1038.8 985.4 L1040.1 965.2 L1041.4 951.1 L1042.8 942.8 L1044.1 940.0 L1045.5 942.8 L1046.8 951.4 L1048.1 965.9 L1049.5 986.7 L1050.8 1013.8 L1052.2 1045.6 L1053.5 1075.5 L1054.9 1089.0 L1056.2 1076.4 L1057.5 1047.9 L1058.9 1017.3 L1060.2 990.9 L1061.6 970.5 L1062.9 956.2 L1064.3 947.8 L1065.6 945.0 L1066.9 947.9 L1068.3 956.5 L1069.6 971.2 L1071.0 992.3 L1072.3 1020.0 L1073.7 1052.7 L1075.0 1083.8 L1076.3 1098.0 L1077.7 1084.0 L1079.0 1053.2 L1080.4 1020.7 L1081.7 993.2 L1083.1 972.1 L1084.4 957.5 L1085.7 948.9 L1087.1 946.0 L1088.4 948.8 L1089.8 957.1 L1091.1 971.2 L1092.5 991.4 L1093.8 1017.3 L1095.1 1047.3 L1096.5 1074.8 L1097.8 1087.0 L1099.2 1075.0 L1100.5 1047.7 L1101.8 1018.0 L1103.2 992.2 L1104.5 972.1 L1105.9 958.1 L1107.2 949.8 L1108.6 947.0 L1109.9 949.9 L1111.2 958.5 L1112.6 973.3 L1113.9 994.5 L1115.3 1022.3 L1116.6 1055.2 L1118.0 1086.6 L1119.3 1101.0 L1120.6 1087.5 L1122.0 1057.6 L1123.3 1025.8 L1124.7 998.7 L1126.0 977.9 L1127.4 963.4 L1128.7 954.8 L1130.0 952.0 L1131.4 954.9 L1132.7 963.5 L1134.1 978.2 L1135.4 999.3 L1136.8 1027.0 L1138.1 1059.7 L1139.4 1090.8 L1140.8 1105.0 L1142.1 1091.2 L1143.5 1060.6 L1144.8 1028.4 L1146.2 1001.0 L1147.5 980.0 L1148.8 965.4 L1150.2 956.8 L1151.5 954.0 L1152.9 956.9 L1154.2 965.6 L1155.5 980.4 L1156.9 1001.8 L1158.2 1029.8 L1159.6 1063.2 L1160.9 1095.3 L1162.3 1110.0 L1163.6 1095.5 L1164.9 1063.7 L1166.3 1030.5 L1167.6 1002.6 L1169.0 981.3 L1170.3 966.6 L1171.7 957.9 L1173.0 955.0 L1174.3 957.9 L1175.7 966.6 L1177.0 981.5 L1178.4 1002.9 L1179.7 1031.1 L1181.1 1064.7 L1182.4 1097.1 L1183.7 1112.0 L1185.1 1098.3 L1186.4 1068.1 L1187.8 1036.1 L1189.1 1008.8 L1190.5 988.0 L1191.8 973.4 L1193.1 964.8 L1194.5 962.0 L1195.8 964.8 L1197.2 973.4 L1198.5 987.9 L1199.8 1008.7 L1201.2 1035.8 L1202.5 1067.6 L1203.9 1097.5 L1205.2 1111.0 L1206.6 1097.4 L1207.9 1067.4 L1209.2 1035.4 L1210.6 1008.3 L1211.9 987.4 L1213.3 972.9 L1214.6 964.3 L1216.0 961.5 L1217.3 964.4 L1218.6 973.0 L1220.0 987.7 L1221.3 1008.7 L1222.7 1036.3 L1224.0 1068.9 L1225.4 1099.9 L1226.7 1114.0 L1228.0 1099.9 L1229.4 1068.9 L1230.7 1036.3 L1232.1 1008.7 L1233.4 987.7 L1234.8 973.0 L1236.1 964.4 L1237.4 961.5 L1238.8 964.3 L1240.1 972.9 L1241.5 987.4 L1242.8 1008.3 L1244.2 1035.4 L1245.5 1067.4 L1246.8 1097.4 L1248.2 1111.0 L1249.5 1098.1 L1250.9 1069.2 L1252.2 1038.2 L1253.6 1011.6 L1254.9 991.1 L1256.2 976.8 L1257.6 968.3 L1258.9 965.5 L1260.3 968.4 L1261.6 977.0 L1262.9 991.7 L1264.3 1012.9 L1265.6 1040.6 L1267.0 1073.4 L1268.3 1104.7 L1269.7 1119.0 L1271.0 1105.1 L1272.3 1074.4 L1273.7 1042.0 L1275.0 1014.6 L1276.4 993.6 L1277.7 978.9 L1279.1 970.3 L1280.4 967.5 L1281.7 970.3 L1283.1 978.9 L1284.4 993.3 L1285.8 1014.1 L1287.1 1041.1 L1288.5 1072.8 L1289.8 1102.6 L1291.1 1116.0 L1292.5 1102.9 L1293.8 1073.8 L1295.2 1042.5 L1296.5 1015.8 L1297.9 995.2 L1299.2 980.8 L1300.5 972.3 L1301.9 969.5 L1303.2 972.3 L1304.6 980.7 L1305.9 995.0 L1307.2 1015.5 L1308.6 1041.9 L1309.9 1072.7 L1311.3 1101.3 L1312.6 1114.0 L1314.0 1101.3 L1315.3 1072.7 L1316.6 1041.9 L1318.0 1015.5 L1319.3 995.0 L1320.7 980.7 L1322.0 972.3 L1323.4 969.5 L1324.7 972.3 L1326.0 980.9 L1327.4 995.6 L1328.7 1016.6 L1330.1 1044.0 L1331.4 1076.4 L1332.8 1107.1 L1334.1 1121.0 L1335.4 1107.1 L1336.8 1076.4 L1338.1 1044.0 L1339.5 1016.6 L1340.8 995.6 L1342.2 980.9 L1343.5 972.3 L1344.8 969.5 L1346.2 972.4 L1347.5 981.0 L1348.9 995.7 L1350.2 1016.9 L1351.6 1044.6 L1352.9 1077.4 L1354.2 1108.7 L1355.6 1123.0 L1356.9 1108.7 L1358.3 1077.4 L1359.6 1044.6 L1361.0 1016.9 L1362.3 995.7 L1363.6 981.0 L1365.0 972.4 L1366.3 969.5 L1367.7 972.3 L1369.0 980.9 L1370.3 995.5 L1371.7 1016.4 L1373.0 1043.7 L1374.4 1075.9 L1375.7 1106.3 L1377.1 1120.0 L1378.4 1106.6 L1379.7 1076.8 L1381.1 1045.1 L1382.4 1018.1 L1383.8 997.3 L1385.1 982.9 L1386.5 974.3 L1387.8 971.5 L1389.1 974.3 L1390.5 982.7 L1391.8 997.0 L1393.2 1017.5 L1394.5 1043.9 L1395.9 1074.7 L1397.2 1103.3 L1398.5 1116.0 L1399.9 1103.3 L1401.2 1074.7 L1402.6 1043.9 L1403.9 1017.5 L1405.3 997.0 L1406.6 982.7 L1407.9 974.3 L1409.3 971.5 L1410.6 974.3 L1412.0 982.9 L1413.3 997.5 L1414.7 1018.4 L1416.0 1045.7 L1417.3 1077.9 L1418.7 1108.3 L1420.0 1122.0 L1421.4 1107.9 L1422.7 1076.9 L1424.0 1044.3 L1425.4 1016.7 L1426.7 995.7 L1428.1 981.0 L1429.4 972.4 L1430.8 969.5 L1432.1 972.7 L1433.4 982.4 L1434.8 999.2 L1436.1 1024.2 L1437.5 1058.9 L1438.8 1104.6 L1440.2 1157.1 L1441.5 1186.5" stroke="#00ff00"/>
<path d="M367.5 216.5 L368.8 173.7 L370.2 155.7 L371.5 159.7 L372.9 167.3 L374.2 178.6 L375.6 193.4 L376.9 209.8 L378.2 226.2 L379.6 244.9 L380.9 265.4 L382.3 284.8 L383.6 300.5 L385.0 312.0 L386.3 321.9 L387.6 326.2 L389.0 325.5 L390.3 323.5 L391.7 321.0 L393.0 318.4 L394.4 316.6 L395.7 316.0 L397.0 317.6 L398.4 321.7 L399.7 327.7 L401.1 334.6 L402.4 343.5 L403.7 356.9 L405.1 371.2 L406.4 385.0 L407.8 398.7 L409.1 407.3 L410.5 413.0 L411.8 416.6 L413.1 419.1 L414.5 420.5 L415.8 420.5 L417.2 420.5 L418.5 420.5 L419.9 420.5 L421.2 421.3 L422.5 426.0 L423.9 432.9 L425.2 439.5 L426.6 444.9 L427.9 450.6 L429.3 455.4 L430.6 457.3 L431.9 456.8 L433.3 455.4 L434.6 453.4 L436.0 451.2 L437.3 449.3 L438.7 448.0 L440.0 447.5 L441.3 448.5 L442.7 451.5 L444.0 456.3 L445.4 462.7 L446.7 470.4 L448.1 478.9 L449.4 487.3 L450.7 494.5 L452.1 499.5 L453.4 501.3 L454.8 500.0 L456.1 496.4 L457.4 491.4 L458.8 486.2 L460.1 481.8 L461.5 478.8 L462.8 477.8 L464.2 479.2 L465.5 483.1 L466.8 489.0 L468.2 496.3 L469.5 504.7 L470.9 513.5 L472.2 525.3 L473.6 538.9 L474.9 550.9 L476.2 556.6 L477.6 560.3 L478.9 562.4 L480.3 563.5 L481.6 564.2 L483.0 564.9 L484.3 566.1 L485.6 569.4 L487.0 576.8 L488.3 584.7 L489.7 593.4 L491.0 602.3 L492.4 611.3 L493.7 618.8 L495.0 626.1 L496.4 629.4 L497.7 628.3 L499.1 625.2 L500.4 620.8 L501.8 615.9 L503.1 611.3 L504.4 607.5 L505.8 605.0 L507.1 604.2 L508.5 610.9 L509.8 624.0 L511.1 636.6 L512.5 650.1 L513.8 664.4 L515.2 676.3 L516.5 688.2 L517.9 697.4 L519.2 701.2 L520.5 699.1 L521.9 693.2 L523.2 685.2 L524.6 676.5 L525.9 668.6 L527.3 662.5 L528.6 658.5 L529.9 657.2 L531.3 658.6 L532.6 661.9 L534.0 666.1 L535.3 670.5 L536.7 677.0 L538.0 684.3 L539.3 690.3 L540.7 692.8 L542.0 692.5 L543.4 691.6 L544.7 690.7 L546.1 689.8 L547.4 689.5 L548.7 690.8 L550.1 694.7 L551.4 700.8 L552.8 708.7 L554.1 717.2 L555.5 725.2 L556.8 730.9 L558.1 733.0 L559.5 731.0 L560.8 725.4 L562.2 717.5 L563.5 708.6 L564.8 700.0 L566.2 692.6 L567.5 687.0 L568.9 683.6 L570.2 682.4 L571.6 684.2 L572.9 689.5 L574.2 698.4 L575.6 710.6 L576.9 725.7 L578.3 742.6 L579.6 759.3 L581.0 772.1 L582.3 777.0 L583.6 775.1 L585.0 770.0 L586.3 762.9 L587.7 755.1 L589.0 748.0 L590.4 742.3 L591.7 738.7 L593.0 737.5 L594.4 739.7 L595.7 746.2 L597.1 757.0 L598.4 771.6 L599.8 789.0 L601.1 807.0 L602.4 821.3 L603.8 827.0 L605.1 822.8 L606.5 811.9 L607.8 797.6 L609.1 783.3 L610.5 770.9 L611.8 761.6 L613.2 755.9 L614.5 754.0 L615.9 756.5 L617.2 764.0 L618.5 776.6 L619.9 794.1 L621.2 815.8 L622.6 839.5 L623.9 859.6 L625.3 868.0 L626.6 862.1 L627.9 847.2 L629.3 828.6 L630.6 810.7 L632.0 795.8 L633.3 784.9 L634.7 778.2 L636.0 776.0 L637.3 778.5 L638.7 785.8 L640.0 798.0 L641.4 814.9 L642.7 835.8 L644.1 858.3 L645.4 877.2 L646.7 885.0 L648.1 879.5 L649.4 865.4 L650.8 847.8 L652.1 830.7 L653.5 816.3 L654.8 805.6 L656.1 799.2 L657.5 797.0 L658.8 799.3 L660.2 806.3 L661.5 817.9 L662.9 833.8 L664.2 853.1 L665.5 873.5 L666.9 890.3 L668.2 897.0 L669.6 891.6 L670.9 877.7 L672.2 860.4 L673.6 843.4 L674.9 829.1 L676.3 818.6 L677.6 812.2 L679.0 810.0 L680.3 812.4 L681.6 819.6 L683.0 831.5 L684.3 848.0 L685.7 868.2 L687.0 889.8 L688.4 907.7 L689.7 915.0 L691.0 908.8 L692.4 893.2 L693.7 873.9 L695.1 855.5 L696.4 840.2 L697.8 829.0 L699.1 822.3 L700.4 820.0 L701.8 822.5 L703.1 830.1 L704.5 842.7 L705.8 860.3 L707.2 882.2 L708.5 906.1 L709.8 926.5 L711.2 935.0 L712.5 927.7 L713.9 909.8 L715.2 888.2 L716.5 868.0 L717.9 851.5 L719.2 839.6 L720.6 832.4 L721.9 830.0 L723.3 832.5 L724.6 839.8 L725.9 852.1 L727.3 869.2 L728.6 890.2 L730.0 913.0 L731.3 932.1 L732.7 940.0 L734.0 933.4 L735.3 916.8 L736.7 896.7 L738.0 877.5 L739.4 861.8 L740.7 850.3 L742.1 843.3 L743.4 841.0 L744.7 842.8 L746.1 848.1 L747.4 856.7 L748.8 868.1 L750.1 881.1 L751.5 893.8 L752.8 903.4 L754.1 907.0 L755.5 904.7 L756.8 898.4 L758.2 889.7 L759.5 880.5 L760.9 872.1 L762.2 865.5 L763.5 861.4 L764.9 860.0 L766.2 862.2 L767.6 868.9 L768.9 879.8 L770.2 894.7 L771.6 912.6 L772.9 931.2 L774.3 946.1 L775.6 952.0 L777.0 944.8 L778.3 927.1 L779.6 905.8 L781.0 885.8 L782.3 869.4 L783.7 857.5 L785.0 850.4 L786.4 848.0 L787.7 850.2 L789.0 856.6 L790.4 867.1 L791.7 881.4 L793.1 898.4 L794.4 915.7 L795.8 929.6 L797.1 935.0 L798.4 929.0 L799.8 914.0 L801.1 895.3 L802.5 877.3 L803.8 862.3 L805.2 851.3 L806.5 844.6 L807.8 842.4 L809.2 844.6 L810.5 851.3 L811.9 862.3 L813.2 877.3 L814.6 895.3 L815.9 914.0 L817.2 929.0 L818.6 935.0 L819.9 931.2 L821.3 921.1 L822.6 907.8 L824.0 894.3 L825.3 882.6 L826.6 873.7 L828.0 868.3 L829.3 866.4 L830.7 868.4 L832.0 874.4 L833.3 884.1 L834.7 897.1 L836.0 912.3 L837.4 927.6 L838.7 939.4 L840.1 944.0 L841.4 940.0 L842.7 929.4 L844.1 915.6 L845.4 901.7 L846.8 889.6 L848.1 880.5 L849.5 874.9 L850.8 873.0 L852.1 875.2 L853.5 881.6 L854.8 892.1 L856.2 906.4 L857.5 923.4 L858.9 940.7 L860.2 954.6 L861.5 960.0 L862.9 954.5 L864.2 940.4 L865.6 922.8 L866.9 905.7 L868.3 891.3 L869.6 880.6 L870.9 874.2 L872.3 872.0 L873.6 874.6 L875.0 882.6 L876.3 895.9 L877.7 914.8 L879.0 938.6 L880.3 965.3 L881.7 988.9 L883.0 999.0 L884.4 990.6 L885.7 970.2 L887.0 946.4 L888.4 924.6 L889.7 907.0 L891.1 894.4 L892.4 886.9 L893.8 884.4 L895.1 886.9 L896.4 894.4 L897.8 906.9 L899.1 924.4 L900.5 946.0 L901.8 969.6 L903.2 989.7 L904.5 998.0 L905.8 990.9 L907.2 973.5 L908.5 952.4 L909.9 932.5 L911.2 916.3 L912.6 904.5 L913.9 897.4 L915.2 895.0 L916.6 897.4 L917.9 904.6 L919.3 916.6 L920.6 933.2 L922.0 953.6 L923.3 975.4 L924.6 993.6 L926.0 1001.0 L927.3 995.2 L928.7 980.5 L930.0 962.2 L931.4 944.5 L932.7 929.7 L934.0 918.8 L935.4 912.2 L936.7 910.0 L938.1 912.2 L939.4 918.8 L940.7 929.7 L942.1 944.5 L943.4 962.2 L944.8 980.5 L946.1 995.2 L947.5 1001.0 L948.8 995.4 L950.1 981.2 L951.5 963.5 L952.8 946.2 L954.2 931.7 L955.5 921.1 L956.9 914.6 L958.2 912.4 L959.5 914.7 L960.9 921.8 L962.2 933.4 L963.6 949.3 L964.9 968.8 L966.3 989.3 L967.6 1006.2 L968.9 1013.0 L970.3 1006.5 L971.6 990.4 L973.0 970.6 L974.3 951.7 L975.7 936.2 L977.0 924.8 L978.3 917.9 L979.7 915.6 L981.0 918.0 L982.4 925.0 L983.7 936.8 L985.1 953.0 L986.4 972.7 L987.7 993.7 L989.1 1011.0 L990.4 1018.0 L991.8 1011.4 L993.1 994.8 L994.4 974.7 L995.8 955.5 L997.1 939.8 L998.5 928.3 L999.8 921.3 L1001.2 919.0 L1002.5 921.4 L1003.8 928.4 L1005.2 940.1 L1006.5 956.3 L1007.9 975.9 L1009.2 996.8 L1010.6 1014.0 L1011.9 1021.0 L1013.2 1014.5 L1014.6 998.4 L1015.9 978.6 L1017.3 959.7 L1018.6 944.2 L1020.0 932.8 L1021.3 925.9 L1022.6 923.6 L1024.0 925.9 L1025.3 932.9 L1026.7 944.4 L1028.0 960.2 L1029.4 979.4 L1030.7 999.7 L1032.0 1016.3 L1033.4 1023.0 L1034.7 1016.9 L1036.1 1001.5 L1037.4 982.5 L1038.8 964.3 L1040.1 949.1 L1041.4 938.0 L1042.8 931.3 L1044.1 929.0 L1045.5 931.2 L1046.8 937.8 L1048.1 948.5 L1049.5 963.2 L1050.8 980.7 L1052.2 998.8 L1053.5 1013.3 L1054.9 1019.0 L1056.2 1013.7 L1057.5 1000.2 L1058.9 983.2 L1060.2 966.5 L1061.6 952.5 L1062.9 942.1 L1064.3 935.7 L1065.6 933.6 L1066.9 935.8 L1068.3 942.4 L1069.6 953.3 L1071.0 968.2 L1072.3 986.0 L1073.7 1004.4 L1075.0 1019.1 L1076.3 1025.0 L1077.7 1018.9 L1079.0 1003.7 L1080.4 984.8 L1081.7 966.7 L1083.1 951.6 L1084.4 940.6 L1085.7 933.9 L1087.1 931.6 L1088.4 934.0 L1089.8 941.1 L1091.1 952.9 L1092.5 969.2 L1093.8 989.1 L1095.1 1010.3 L1096.5 1027.9 L1097.8 1035.0 L1099.2 1028.5 L1100.5 1012.2 L1101.8 992.2 L1103.2 973.3 L1104.5 957.6 L1105.9 946.2 L1107.2 939.3 L1108.6 937.0 L1109.9 939.4 L1111.2 946.4 L1112.6 958.1 L1113.9 974.3 L1115.3 993.9 L1116.6 1014.8 L1118.0 1032.0 L1119.3 1039.0 L1120.6 1031.5 L1122.0 1013.2 L1123.3 991.2 L1124.7 970.8 L1126.0 954.1 L1127.4 942.1 L1128.7 934.8 L1130.0 932.4 L1131.4 934.9 L1132.7 942.2 L1134.1 954.5 L1135.4 971.5 L1136.8 992.5 L1138.1 1015.1 L1139.4 1034.2 L1140.8 1042.0 L1142.1 1036.1 L1143.5 1021.2 L1144.8 1002.6 L1146.2 984.7 L1147.5 969.8 L1148.8 958.9 L1150.2 952.2 L1151.5 950.0 L1152.9 952.2 L1154.2 958.9 L1155.5 970.0 L1156.9 985.0 L1158.2 1003.1 L1159.6 1021.8 L1160.9 1037.0 L1162.3 1043.0 L1163.6 1036.4 L1164.9 1019.8 L1166.3 999.7 L1167.6 980.5 L1169.0 964.8 L1170.3 953.3 L1171.7 946.3 L1173.0 944.0 L1174.3 946.2 L1175.7 952.6 L1177.0 963.3 L1178.4 977.7 L1179.7 994.8 L1181.1 1012.4 L1182.4 1026.5 L1183.7 1032.0 L1185.1 1027.9 L1186.4 1017.3 L1187.8 1003.4 L1189.1 989.3 L1190.5 977.2 L1191.8 968.0 L1193.1 962.4 L1194.5 960.5 L1195.8 962.8 L1197.2 969.6 L1198.5 980.8 L1199.8 996.2 L1201.2 1014.7 L1202.5 1034.0 L1203.9 1049.7 L1205.2 1056.0 L1206.6 1048.6 L1207.9 1030.4 L1209.2 1008.6 L1210.6 988.2 L1211.9 971.6 L1213.3 959.6 L1214.6 952.4 L1216.0 950.0 L1217.3 952.3 L1218.6 959.1 L1220.0 970.4 L1221.3 985.8 L1222.7 1004.4 L1224.0 1023.9 L1225.4 1039.7 L1226.7 1046.0 L1228.0 1039.6 L1229.4 1023.5 L1230.7 1003.8 L1232.1 985.0 L1233.4 969.5 L1234.8 958.2 L1236.1 951.3 L1237.4 949.0 L1238.8 951.4 L1240.1 958.7 L1241.5 970.9 L1242.8 987.7 L1244.2 1008.4 L1245.5 1030.7 L1246.8 1049.4 L1248.2 1057.0 L1249.5 1050.1 L1250.9 1033.2 L1252.2 1012.5 L1253.6 993.0 L1254.9 977.0 L1256.2 965.4 L1257.6 958.4 L1258.9 956.0 L1260.3 958.4 L1261.6 965.5 L1262.9 977.3 L1264.3 993.7 L1265.6 1013.6 L1267.0 1034.9 L1268.3 1052.5 L1269.7 1059.6 L1271.0 1052.3 L1272.3 1034.5 L1273.7 1013.0 L1275.0 992.9 L1276.4 976.5 L1277.7 964.6 L1279.1 957.4 L1280.4 955.0 L1281.7 957.4 L1283.1 964.5 L1284.4 976.4 L1285.8 992.8 L1287.1 1012.8 L1288.5 1034.1 L1289.8 1051.8 L1291.1 1059.0 L1292.5 1052.1 L1293.8 1035.2 L1295.2 1014.5 L1296.5 995.0 L1297.9 979.0 L1299.2 967.4 L1300.5 960.4 L1301.9 958.0 L1303.2 960.3 L1304.6 967.3 L1305.9 978.9 L1307.2 994.8 L1308.6 1014.1 L1309.9 1034.5 L1311.3 1051.3 L1312.6 1058.0 L1314.0 1051.3 L1315.3 1034.5 L1316.6 1014.1 L1318.0 994.8 L1319.3 978.9 L1320.7 967.3 L1322.0 960.3 L1323.4 958.0 L1324.7 960.4 L1326.0 967.4 L1327.4 979.1 L1328.7 995.3 L1330.1 1014.9 L1331.4 1035.8 L1332.8 1053.0 L1334.1 1060.0 L1335.4 1053.1 L1336.8 1036.2 L1338.1 1015.5 L1339.5 996.0 L1340.8 980.0 L1342.2 968.4 L1343.5 961.4 L1344.8 959.0 L1346.2 961.4 L1347.5 968.5 L1348.9 980.3 L1350.2 996.5 L1351.6 1016.4 L1352.9 1037.5 L1354.2 1054.9 L1355.6 1062.0 L1356.9 1054.8 L1358.3 1037.1 L1359.6 1015.8 L1361.0 995.8 L1362.3 979.4 L1363.6 967.5 L1365.0 960.4 L1366.3 958.0 L1367.7 960.4 L1369.0 967.5 L1370.3 979.3 L1371.7 995.7 L1373.0 1015.6 L1374.4 1036.9 L1375.7 1054.5 L1377.1 1061.6 L1378.4 1054.7 L1379.7 1037.6 L1381.1 1016.8 L1382.4 997.2 L1383.8 981.1 L1385.1 969.4 L1386.5 962.4 L1387.8 960.0 L1389.1 962.4 L1390.5 969.4 L1391.8 981.2 L1393.2 997.4 L1394.5 1017.1 L1395.9 1038.1 L1397.2 1055.4 L1398.5 1062.4 L1399.9 1055.6 L1401.2 1038.8 L1402.6 1018.3 L1403.9 998.9 L1405.3 982.9 L1406.6 971.3 L1407.9 964.3 L1409.3 962.0 L1410.6 964.3 L1412.0 971.1 L1413.3 982.4 L1414.7 997.8 L1416.0 1016.4 L1417.3 1035.9 L1418.7 1051.7 L1420.0 1058.0 L1421.4 1051.0 L1422.7 1033.8 L1424.0 1012.9 L1425.4 993.3 L1426.7 977.1 L1428.1 965.4 L1429.4 958.4 L1430.8 956.0 L1432.1 959.0 L1433.4 968.0 L1434.8 983.5 L1436.1 1006.0 L1437.5 1036.1 L1438.8 1073.0 L1440.2 1110.1 L1441.5 1128.0" stroke="#000000"/>
</g>
<g stroke="#262626" stroke-width="2.7" fill="none" stroke-linecap="butt">
<rect x="153.6" y="80.5" width="1501.6000000000001" height="1245.3"/>
<path d="M367.4 1325.8 V1310.3 M367.4 80.5 V96.0 M582.3 1325.8 V1310.3 M582.3 80.5 V96.0 M797.1 1325.8 V1310.3 M797.1 80.5 V96.0 M1012.0 1325.8 V1310.3 M1012.0 80.5 V96.0 M1226.8 1325.8 V1310.3 M1226.8 80.5 V96.0 M1441.7 1325.8 V1310.3 M1441.7 80.5 V96.0 M153.6 1118.2 H169.1 M1655.2 1118.2 H1639.7 M153.6 910.7 H169.1 M1655.2 910.7 H1639.7 M153.6 703.1 H169.1 M1655.2 703.1 H1639.7 M153.6 495.6 H169.1 M1655.2 495.6 H1639.7 M153.6 288.1 H169.1 M1655.2 288.1 H1639.7 "/>
</g>
<g font-family='"Liberation Sans", Arial, Helvetica, sans-serif' font-size="39.7" fill="#262626">
<text x="150.7" y="1381.8" text-anchor="middle">-100</text>
<text x="366.4" y="1381.8" text-anchor="middle">0</text>
<text x="580.9" y="1381.8" text-anchor="middle">100</text>
<text x="795.4" y="1381.8" text-anchor="middle">200</text>
<text x="1010.0" y="1381.8" text-anchor="middle">300</text>
<text x="1224.5" y="1381.8" text-anchor="middle">400</text>
<text x="1439.0" y="1381.8" text-anchor="middle">500</text>
<text x="1653.5" y="1381.8" text-anchor="middle">600</text>
<text x="136.2" y="1340.4" text-anchor="end">-60</text>
<text x="136.2" y="1132.8" text-anchor="end">-50</text>
<text x="136.2" y="925.3" text-anchor="end">-40</text>
<text x="136.2" y="717.8" text-anchor="end">-30</text>
<text x="136.2" y="510.2" text-anchor="end">-20</text>
<text x="136.2" y="302.7" text-anchor="end">-10</text>
<text x="136.2" y="95.1" text-anchor="end">0</text>
</g>
<text x="903.9" y="1440.1" text-anchor="middle" font-family='"Liberation Sans", Arial, Helvetica, sans-serif' font-size="43.4" fill="#262626" textLength="92.1" lengthAdjust="spacing">F/Hz</text>
<text transform="translate(57.9,703.3) rotate(-90)" text-anchor="middle" font-family='"Liberation Sans", Arial, Helvetica, sans-serif' font-size="43.4" fill="#262626" textLength="468.3" lengthAdjust="spacing">Power Spectrum Density</text>
<text x="901.5" y="64.3" text-anchor="middle" font-family='"Liberation Sans", Arial, Helvetica, sans-serif' font-size="43.4" fill="#000" textLength="1294.5" lengthAdjust="spacing">Comparison of Signal Power Density of Seven Denoising Algorithms</text>
<rect x="562.4" y="119.4" width="1054.3000000000002" height="332.0" fill="#fff" stroke="#262626" stroke-width="2.7"/>
<g font-family='"Liberation Sans", Arial, Helvetica, sans-serif' font-size="35" fill="#000">
<path d="M573.8 147.3 H662" stroke="#ff0000" stroke-width="3" fill="none"/>
<text x="670.1" y="161.4" textLength="283.1" lengthAdjust="spacing">Minimaxi threshold</text>
<path d="M573.8 193.3 H662" stroke="#ff8000" stroke-width="3" fill="none"/>
<text x="670.1" y="207.3" textLength="285.2" lengthAdjust="spacing">Heuristic threshold</text>
<path d="M573.8 239.2 H662" stroke="#0000ff" stroke-width="3" fill="none"/>
<text x="670.1" y="253.2" textLength="366.1" lengthAdjust="spacing">Lifting wavelet threshold</text>
<path d="M573.8 285.2 H662" stroke="#ff00ff" stroke-width="3" fill="none"/>
<text x="670.1" y="299.0" textLength="461.9" lengthAdjust="spacing">Wavelet entropy soft threshold</text>
<path d="M573.8 331.2 H662" stroke="#00ffff" stroke-width="3" fill="none"/>
<text x="670.1" y="344.9" textLength="904.1" lengthAdjust="spacing">Lifting wavelet decomposition wavelet entropy soft threshold</text>
<path d="M573.8 377.1 H662" stroke="#00ff00" stroke-width="3" fill="none"/>
<text x="670.1" y="390.8" textLength="378.0" lengthAdjust="spacing">Improved EMD algorithm</text>
<path d="M573.8 423.1 H662" stroke="#000000" stroke-width="3" fill="none"/>
<text x="670.1" y="436.7" textLength="162.3" lengthAdjust="spacing">PSO-VMD</text>
</g>
</svg>
</body></html>
